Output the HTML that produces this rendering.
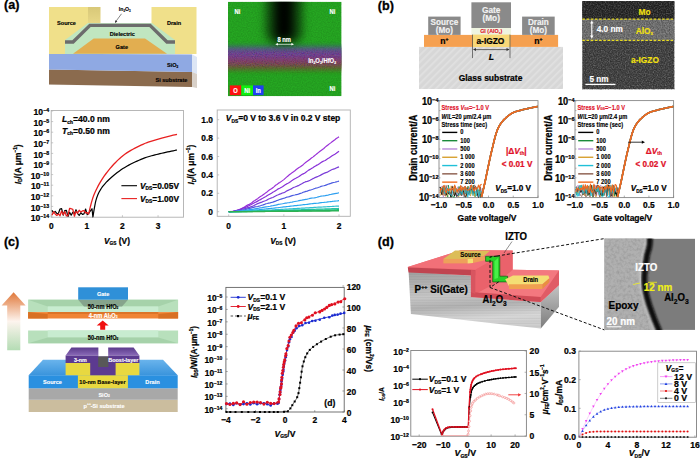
<!DOCTYPE html><html><head><meta charset="utf-8"><style>html,body{margin:0;padding:0;background:#fff;width:700px;height:458px;overflow:hidden}svg{display:block}text{font-family:"Liberation Sans",sans-serif}</style></head><body><svg width="700" height="458" viewBox="0 0 700 458">
<text x="4.00" y="9.40" font-size="12.6" font-weight="bold" text-anchor="start" fill="#000" stroke="#000" stroke-width="0.3"><tspan>(a)</tspan></text>
<polygon points="49.00,54.00 192.00,54.00 196.00,57.00 196.00,87.00 192.00,87.00 49.00,85.00" fill="#f4f4f4" />
<polygon points="49.00,69.50 192.00,72.00 192.00,87.00 49.00,84.60" fill="#8b6b4e" />
<polygon points="49.00,53.70 192.00,54.50 192.00,72.00 49.00,69.50" fill="#8fa9e3" />
<polygon points="192.00,54.50 197.00,57.00 197.00,74.00 192.00,72.00" fill="#dde6f5" />
<polygon points="192.00,72.00 197.00,74.00 197.00,88.00 192.00,87.00" fill="#d8d0c8" />
<rect x="49" y="7" width="39" height="47" fill="#f0e08a"/>
<defs><linearGradient id="srcside" x1="0" x2="0" y1="0" y2="1"><stop offset="0" stop-color="#d8c878"/><stop offset="1" stop-color="#e8d888"/></linearGradient></defs>
<rect x="88" y="7" width="12.5" height="17" fill="url(#srcside)"/>
<rect x="151.5" y="7" width="45" height="47" fill="#f0e08a"/>
<polygon points="65.00,40.00 88.00,23.00 152.00,23.00 175.00,40.00 175.00,54.00 65.00,54.00" fill="#c0e6c0" />
<polygon points="93.70,38.40 145.00,38.40 167.00,53.70 73.00,53.70" fill="#e2ae50" />
<path d="M65,42 L73,42 L90,25.4 L150,25.4 L167,42 L175,42" stroke="#6c6c6c" stroke-width="3.4" fill="none" stroke-linejoin="miter"/>
<text x="0.00" y="0.00" transform="translate(57.00,25.00) scale(1.0,1.1)" font-size="5.6" font-weight="bold" text-anchor="start" fill="#000" stroke="#000" stroke-width="0.15"><tspan>Source</tspan></text>
<text x="0.00" y="0.00" transform="translate(166.90,25.00) scale(1.0,1.1)" font-size="5.6" font-weight="bold" text-anchor="start" fill="#000" stroke="#000" stroke-width="0.15"><tspan>Drain</tspan></text>
<text x="0.00" y="0.00" transform="translate(122.30,36.00) scale(1.0,1.1)" font-size="5.6" font-weight="bold" text-anchor="middle" fill="#000" stroke="#000" stroke-width="0.15"><tspan>Dielectric</tspan></text>
<text x="0.00" y="0.00" transform="translate(121.80,49.00) scale(1.0,1.1)" font-size="5.6" font-weight="bold" text-anchor="middle" fill="#000" stroke="#000" stroke-width="0.15"><tspan>Gate</tspan></text>
<text x="0.00" y="0.00" transform="translate(166.90,67.00) scale(1.0,1.1)" font-size="5.6" font-weight="bold" text-anchor="start" fill="#000" stroke="#000" stroke-width="0.15"><tspan>SiO</tspan><tspan font-size="3.19" dy="0.73">2</tspan></text>
<text x="0.00" y="0.00" transform="translate(155.40,81.50) scale(1.0,1.1)" font-size="5.6" font-weight="bold" text-anchor="start" fill="#000" stroke="#000" stroke-width="0.15"><tspan>Si substrate</tspan></text>
<text x="0.00" y="0.00" transform="translate(118.80,11.20) scale(1.0,1.1)" font-size="5.2" font-weight="bold" text-anchor="start" fill="#000" stroke="#000" stroke-width="0.12"><tspan>In</tspan><tspan font-size="2.96" dy="0.68">2</tspan><tspan dy="-0.68">O</tspan><tspan font-size="2.96" dy="0.68">3</tspan></text>
<line x1="121.50" y1="13.80" x2="115.80" y2="21.50" stroke="#333" stroke-width="0.6" />
<polygon points="115.00,23.00 115.20,20.30 117.40,21.60" fill="#333" />
<defs><clipPath id="edsClip"><rect x="228" y="1.7" width="113.6" height="94.5"/></clipPath><filter id="blurA" x="-50%" y="-50%" width="200%" height="200%"><feGaussianBlur stdDeviation="4.2"/></filter><filter id="blurB" x="-50%" y="-50%" width="200%" height="200%"><feGaussianBlur stdDeviation="2.5"/></filter><filter id="speck" x="0" y="0" width="100%" height="100%"><feTurbulence type="fractalNoise" baseFrequency="0.8" numOctaves="1" seed="11"/><feColorMatrix type="matrix" values="0 0 0 0 0  0 0 0 0 0  0 0 0 0 0  0 0 0 -1.6 1.1"/></filter></defs>
<g clip-path="url(#edsClip)">
<rect x="228" y="1.7" width="113.6" height="94.5" fill="#26a822"/>
<g filter="url(#blurB)">
<rect x="220" y="46" width="130" height="6" fill="#4a4a98" opacity="0.75"/>
<rect x="220" y="50" width="130" height="9" fill="#66308e"/>
<rect x="220" y="58" width="130" height="7" fill="#7c2c5c"/>
<rect x="220" y="64" width="130" height="6" fill="#703a24" opacity="0.75"/>
</g>
<rect x="265" y="-20" width="38" height="64" rx="12" fill="#000" opacity="0.5" filter="url(#blurA)"/>
<rect x="274.5" y="-20" width="19" height="60" rx="6" fill="#000" opacity="0.95" filter="url(#blurA)"/>
<defs><filter id="cnoise" x="0" y="0" width="100%" height="100%"><feTurbulence type="fractalNoise" baseFrequency="0.9" numOctaves="1" seed="17"/><feColorMatrix type="matrix" values="2.2 0 0 0 -0.6  0 2.2 0 0 -0.6  0 0 2.2 0 -0.6  0 0 0 0 0.35"/></filter></defs>
<rect x="228" y="1.7" width="113.6" height="94.5" fill="#000" opacity="0.15" filter="url(#speck)"/>
<defs><linearGradient id="nfade" x1="0" x2="0" y1="0" y2="1"><stop offset="0" stop-color="#fff" stop-opacity="0"/><stop offset="0.3" stop-color="#fff" stop-opacity="1"/><stop offset="0.7" stop-color="#fff" stop-opacity="1"/><stop offset="1" stop-color="#fff" stop-opacity="0"/></linearGradient><mask id="nmask"><rect x="228" y="44" width="113.6" height="30" fill="url(#nfade)"/></mask></defs>
<rect x="228" y="44" width="113.6" height="30" filter="url(#cnoise)" opacity="0.4" mask="url(#nmask)"/>
</g>
<text x="0.00" y="0.00" transform="translate(234.50,14.00) scale(1.0,1.1)" font-size="5.8" font-weight="bold" text-anchor="start" fill="#fff" stroke="#fff" stroke-width="0.15"><tspan>Ni</tspan></text>
<text x="0.00" y="0.00" transform="translate(329.50,14.00) scale(1.0,1.1)" font-size="5.8" font-weight="bold" text-anchor="start" fill="#fff" stroke="#fff" stroke-width="0.15"><tspan>Ni</tspan></text>
<text x="0.00" y="0.00" transform="translate(329.50,91.00) scale(1.0,1.1)" font-size="5.8" font-weight="bold" text-anchor="start" fill="#fff" stroke="#fff" stroke-width="0.15"><tspan>Ni</tspan></text>
<text x="0.00" y="0.00" transform="translate(284.20,42.20) scale(1.0,1.1)" font-size="5.8" font-weight="bold" text-anchor="middle" fill="#fff" stroke="#fff" stroke-width="0.15"><tspan>8 nm</tspan></text>
<line x1="277.00" y1="44.30" x2="292.50" y2="44.30" stroke="#fff" stroke-width="0.7" />
<polygon points="275.30,44.30 277.90,43.00 277.90,45.60" fill="#fff" />
<polygon points="294.00,44.30 291.40,45.60 291.40,43.00" fill="#fff" />
<text x="0.00" y="0.00" transform="translate(308.20,62.80) scale(1.0,1.1)" font-size="5.9" font-weight="bold" text-anchor="start" fill="#fff" stroke="#fff" stroke-width="0.12"><tspan>In</tspan><tspan font-size="3.36" dy="0.77">2</tspan><tspan dy="-0.77">O</tspan><tspan font-size="3.36" dy="0.77">3</tspan><tspan dy="-0.77">/HfO</tspan><tspan font-size="3.36" dy="0.77">2</tspan></text>
<rect x="229.8" y="85.4" width="11.5" height="9.8" fill="#ff1010"/>
<rect x="241.3" y="85.4" width="11.7" height="9.8" fill="#10f010"/>
<rect x="253" y="85.4" width="10.6" height="9.8" fill="#2040f0"/>
<text x="0.00" y="0.00" transform="translate(235.50,92.60) scale(1.0,1.1)" font-size="5.8" font-weight="bold" text-anchor="middle" fill="#fff" stroke="#fff" stroke-width="0.15"><tspan>O</tspan></text>
<text x="0.00" y="0.00" transform="translate(247.10,92.60) scale(1.0,1.1)" font-size="5.8" font-weight="bold" text-anchor="middle" fill="#fff" stroke="#fff" stroke-width="0.15"><tspan>Ni</tspan></text>
<text x="0.00" y="0.00" transform="translate(258.30,92.60) scale(1.0,1.1)" font-size="5.8" font-weight="bold" text-anchor="middle" fill="#fff" stroke="#fff" stroke-width="0.15"><tspan>In</tspan></text>
<rect x="51.2" y="110.5" width="132.3" height="106.69999999999999" fill="none" stroke="#b0b0b0" stroke-width="0.9"/>
<text x="0.00" y="0.00" transform="translate(49.00,115.20) scale(1.0,1.1)" font-size="8.6" font-weight="bold" text-anchor="end" fill="#000" stroke="#000" stroke-width="0.22"><tspan>10</tspan><tspan font-size="5.16" dy="-2.75">−4</tspan></text>
<line x1="51.20" y1="111.00" x2="53.20" y2="111.00" stroke="#b0b0b0" stroke-width="0.7" />
<text x="0.00" y="0.00" transform="translate(49.00,125.80) scale(1.0,1.1)" font-size="8.6" font-weight="bold" text-anchor="end" fill="#000" stroke="#000" stroke-width="0.22"><tspan>10</tspan><tspan font-size="5.16" dy="-2.75">−5</tspan></text>
<line x1="51.20" y1="121.60" x2="53.20" y2="121.60" stroke="#b0b0b0" stroke-width="0.7" />
<text x="0.00" y="0.00" transform="translate(49.00,136.40) scale(1.0,1.1)" font-size="8.6" font-weight="bold" text-anchor="end" fill="#000" stroke="#000" stroke-width="0.22"><tspan>10</tspan><tspan font-size="5.16" dy="-2.75">−6</tspan></text>
<line x1="51.20" y1="132.20" x2="53.20" y2="132.20" stroke="#b0b0b0" stroke-width="0.7" />
<text x="0.00" y="0.00" transform="translate(49.00,147.00) scale(1.0,1.1)" font-size="8.6" font-weight="bold" text-anchor="end" fill="#000" stroke="#000" stroke-width="0.22"><tspan>10</tspan><tspan font-size="5.16" dy="-2.75">−7</tspan></text>
<line x1="51.20" y1="142.80" x2="53.20" y2="142.80" stroke="#b0b0b0" stroke-width="0.7" />
<text x="0.00" y="0.00" transform="translate(49.00,157.60) scale(1.0,1.1)" font-size="8.6" font-weight="bold" text-anchor="end" fill="#000" stroke="#000" stroke-width="0.22"><tspan>10</tspan><tspan font-size="5.16" dy="-2.75">−8</tspan></text>
<line x1="51.20" y1="153.40" x2="53.20" y2="153.40" stroke="#b0b0b0" stroke-width="0.7" />
<text x="0.00" y="0.00" transform="translate(49.00,168.20) scale(1.0,1.1)" font-size="8.6" font-weight="bold" text-anchor="end" fill="#000" stroke="#000" stroke-width="0.22"><tspan>10</tspan><tspan font-size="5.16" dy="-2.75">−9</tspan></text>
<line x1="51.20" y1="164.00" x2="53.20" y2="164.00" stroke="#b0b0b0" stroke-width="0.7" />
<text x="0.00" y="0.00" transform="translate(49.00,178.80) scale(1.0,1.1)" font-size="8.6" font-weight="bold" text-anchor="end" fill="#000" stroke="#000" stroke-width="0.22"><tspan>10</tspan><tspan font-size="5.16" dy="-2.75">−10</tspan></text>
<line x1="51.20" y1="174.60" x2="53.20" y2="174.60" stroke="#b0b0b0" stroke-width="0.7" />
<text x="0.00" y="0.00" transform="translate(49.00,189.40) scale(1.0,1.1)" font-size="8.6" font-weight="bold" text-anchor="end" fill="#000" stroke="#000" stroke-width="0.22"><tspan>10</tspan><tspan font-size="5.16" dy="-2.75">−11</tspan></text>
<line x1="51.20" y1="185.20" x2="53.20" y2="185.20" stroke="#b0b0b0" stroke-width="0.7" />
<text x="0.00" y="0.00" transform="translate(49.00,200.00) scale(1.0,1.1)" font-size="8.6" font-weight="bold" text-anchor="end" fill="#000" stroke="#000" stroke-width="0.22"><tspan>10</tspan><tspan font-size="5.16" dy="-2.75">−12</tspan></text>
<line x1="51.20" y1="195.80" x2="53.20" y2="195.80" stroke="#b0b0b0" stroke-width="0.7" />
<text x="0.00" y="0.00" transform="translate(49.00,210.60) scale(1.0,1.1)" font-size="8.6" font-weight="bold" text-anchor="end" fill="#000" stroke="#000" stroke-width="0.22"><tspan>10</tspan><tspan font-size="5.16" dy="-2.75">−13</tspan></text>
<line x1="51.20" y1="206.40" x2="53.20" y2="206.40" stroke="#b0b0b0" stroke-width="0.7" />
<text x="0.00" y="0.00" transform="translate(49.00,221.20) scale(1.0,1.1)" font-size="8.6" font-weight="bold" text-anchor="end" fill="#000" stroke="#000" stroke-width="0.22"><tspan>10</tspan><tspan font-size="5.16" dy="-2.75">−14</tspan></text>
<line x1="51.20" y1="217.00" x2="53.20" y2="217.00" stroke="#b0b0b0" stroke-width="0.7" />
<text x="0.00" y="0.00" transform="translate(51.25,228.50) scale(1.0,1.1)" font-size="8.4" font-weight="bold" text-anchor="middle" fill="#000" stroke="#000" stroke-width="0.22"><tspan>0</tspan></text>
<line x1="51.25" y1="217.20" x2="51.25" y2="215.20" stroke="#b0b0b0" stroke-width="0.7" />
<text x="0.00" y="0.00" transform="translate(86.85,228.50) scale(1.0,1.1)" font-size="8.4" font-weight="bold" text-anchor="middle" fill="#000" stroke="#000" stroke-width="0.22"><tspan>1</tspan></text>
<line x1="86.85" y1="217.20" x2="86.85" y2="215.20" stroke="#b0b0b0" stroke-width="0.7" />
<text x="0.00" y="0.00" transform="translate(122.45,228.50) scale(1.0,1.1)" font-size="8.4" font-weight="bold" text-anchor="middle" fill="#000" stroke="#000" stroke-width="0.22"><tspan>2</tspan></text>
<line x1="122.45" y1="217.20" x2="122.45" y2="215.20" stroke="#b0b0b0" stroke-width="0.7" />
<text x="0.00" y="0.00" transform="translate(158.05,228.50) scale(1.0,1.1)" font-size="8.4" font-weight="bold" text-anchor="middle" fill="#000" stroke="#000" stroke-width="0.22"><tspan>3</tspan></text>
<line x1="158.05" y1="217.20" x2="158.05" y2="215.20" stroke="#b0b0b0" stroke-width="0.7" />
<text x="0.00" y="0.00" transform="translate(117.00,243.50) scale(1.0,1.1)" font-size="8.4" font-weight="bold" text-anchor="middle" fill="#000" stroke="#000" stroke-width="0.22"><tspan font-style="italic">V</tspan><tspan font-size="4.79" dy="1.09">GS</tspan><tspan dy="-1.09"> (V)</tspan></text>
<text x="0.00" y="0.00" transform="translate(20.50,164.30) rotate(-90) scale(1.0,1.1)" font-size="8.4" font-weight="bold" text-anchor="middle" fill="#000" stroke="#000" stroke-width="0.22"><tspan font-style="italic">I</tspan><tspan font-size="4.79" dy="1.09">D</tspan><tspan dy="-1.09">/(A μm</tspan><tspan font-size="4.79" dy="-3.53">−1</tspan><tspan dy="3.53">)</tspan></text>
<text x="0.00" y="0.00" transform="translate(62.00,122.40) scale(1.0,1.1)" font-size="8.6" font-weight="bold" text-anchor="start" fill="#000" stroke="#000" stroke-width="0.22"><tspan font-style="italic">L</tspan><tspan font-size="4.90" dy="1.12">ch</tspan><tspan dy="-1.12">=40.0 nm</tspan></text>
<text x="0.00" y="0.00" transform="translate(62.00,133.50) scale(1.0,1.1)" font-size="8.6" font-weight="bold" text-anchor="start" fill="#000" stroke="#000" stroke-width="0.22"><tspan font-style="italic">T</tspan><tspan font-size="4.90" dy="1.12">ch</tspan><tspan dy="-1.12">=0.50 nm</tspan></text>
<line x1="121.40" y1="185.70" x2="137.00" y2="185.70" stroke="#000" stroke-width="1.1" />
<line x1="121.40" y1="198.60" x2="137.00" y2="198.60" stroke="#e82020" stroke-width="1.1" />
<text x="0.00" y="0.00" transform="translate(140.00,188.60) scale(1.0,1.1)" font-size="8.4" font-weight="bold" text-anchor="start" fill="#000" stroke="#000" stroke-width="0.22"><tspan font-style="italic">V</tspan><tspan font-size="4.79" dy="1.09">DS</tspan><tspan dy="-1.09">=0.05V</tspan></text>
<text x="0.00" y="0.00" transform="translate(140.00,201.50) scale(1.0,1.1)" font-size="8.4" font-weight="bold" text-anchor="start" fill="#000" stroke="#000" stroke-width="0.22"><tspan font-style="italic">V</tspan><tspan font-size="4.79" dy="1.09">DS</tspan><tspan dy="-1.09">=1.00V</tspan></text>
<path d="M52.00,210.40 L53.60,212.85 L55.20,211.46 L56.80,213.33 L58.40,213.51 L60.00,209.02 L61.60,208.61 L63.20,215.20 L64.80,210.57 L66.40,210.37 L68.00,216.47 L69.60,212.26 L71.20,215.19 L72.80,212.31 L74.40,213.61 L76.00,209.70 L77.60,213.58 L79.20,215.44 L80.80,212.69 L82.40,214.43 L84.00,213.87 L85.60,209.01 L87.20,214.57 L88.80,213.23 L90.40,210.91 L92.00,208.75 L92.90,217.00 L93.12,215.78 L93.38,214.19 L93.68,212.28 L94.02,210.16 L94.41,207.88 L94.83,205.54 L95.30,203.20 L95.82,200.94 L96.39,198.85 L97.00,197.00 L97.65,195.35 L98.31,193.81 L99.00,192.34 L99.74,190.94 L100.53,189.59 L101.39,188.27 L102.32,186.96 L103.34,185.64 L104.47,184.29 L105.70,182.90 L107.06,181.46 L108.55,179.98 L110.15,178.49 L111.83,176.99 L113.59,175.49 L115.41,174.02 L117.27,172.58 L119.14,171.19 L121.03,169.86 L122.90,168.60 L124.80,167.40 L126.77,166.24 L128.79,165.12 L130.84,164.05 L132.91,163.01 L134.97,162.03 L137.02,161.09 L139.04,160.20 L141.00,159.37 L142.90,158.60 L144.73,157.90 L146.51,157.27 L148.25,156.72 L149.95,156.22 L151.64,155.76 L153.31,155.33 L154.97,154.92 L156.63,154.52 L158.31,154.12 L160.00,153.70 L161.78,153.26 L163.68,152.82 L165.64,152.39 L167.62,151.96 L169.57,151.54 L171.43,151.16 L173.15,150.80 L174.69,150.48 L175.99,150.21 L177.00,150.00" stroke="#000" stroke-width="1.2" fill="none" stroke-linejoin="round" />
<path d="M52.00,215.29 L53.60,211.75 L55.20,213.97 L56.80,215.41 L58.40,213.93 L60.00,215.79 L61.60,211.05 L63.20,214.71 L64.80,211.50 L66.40,215.92 L68.00,215.41 L69.60,208.38 L71.20,208.72 L72.80,209.45 L74.40,216.19 L76.00,211.43 L77.60,213.14 L79.20,210.21 L80.80,212.07 L82.40,210.97 L84.00,210.66 L85.60,212.77 L87.20,212.76 L88.60,214.00 L88.91,212.81 L89.28,211.28 L89.71,209.47 L90.20,207.44 L90.74,205.25 L91.34,202.96 L91.99,200.63 L92.70,198.32 L93.47,196.09 L94.30,194.00 L95.18,191.99 L96.12,189.97 L97.12,187.95 L98.17,185.92 L99.28,183.89 L100.45,181.88 L101.67,179.88 L102.96,177.89 L104.30,175.93 L105.70,174.00 L107.17,172.07 L108.72,170.12 L110.35,168.17 L112.03,166.23 L113.76,164.31 L115.54,162.44 L117.35,160.63 L119.19,158.89 L121.04,157.24 L122.90,155.70 L124.80,154.25 L126.77,152.89 L128.79,151.59 L130.84,150.37 L132.91,149.21 L134.97,148.12 L137.02,147.08 L139.04,146.10 L141.00,145.18 L142.90,144.30 L144.73,143.49 L146.51,142.77 L148.25,142.13 L149.95,141.54 L151.64,141.01 L153.31,140.51 L154.97,140.03 L156.63,139.56 L158.31,139.09 L160.00,138.60 L161.78,138.09 L163.68,137.58 L165.64,137.07 L167.62,136.57 L169.57,136.09 L171.43,135.64 L173.15,135.23 L174.69,134.86 L175.99,134.55 L177.00,134.30" stroke="#e82020" stroke-width="1.3" fill="none" stroke-linejoin="round" />
<rect x="217.2" y="110" width="133.10000000000002" height="106.30000000000001" fill="none" stroke="#b0b0b0" stroke-width="0.9"/>
<text x="0.00" y="0.00" transform="translate(213.00,214.70) scale(1.0,1.1)" font-size="8.4" font-weight="bold" text-anchor="end" fill="#000" stroke="#000" stroke-width="0.22"><tspan>0</tspan></text>
<line x1="217.20" y1="211.70" x2="219.20" y2="211.70" stroke="#b0b0b0" stroke-width="0.7" />
<text x="0.00" y="0.00" transform="translate(213.00,196.30) scale(1.0,1.1)" font-size="8.4" font-weight="bold" text-anchor="end" fill="#000" stroke="#000" stroke-width="0.22"><tspan>0.2</tspan></text>
<line x1="217.20" y1="193.30" x2="219.20" y2="193.30" stroke="#b0b0b0" stroke-width="0.7" />
<text x="0.00" y="0.00" transform="translate(213.00,177.90) scale(1.0,1.1)" font-size="8.4" font-weight="bold" text-anchor="end" fill="#000" stroke="#000" stroke-width="0.22"><tspan>0.4</tspan></text>
<line x1="217.20" y1="174.90" x2="219.20" y2="174.90" stroke="#b0b0b0" stroke-width="0.7" />
<text x="0.00" y="0.00" transform="translate(213.00,159.50) scale(1.0,1.1)" font-size="8.4" font-weight="bold" text-anchor="end" fill="#000" stroke="#000" stroke-width="0.22"><tspan>0.6</tspan></text>
<line x1="217.20" y1="156.50" x2="219.20" y2="156.50" stroke="#b0b0b0" stroke-width="0.7" />
<text x="0.00" y="0.00" transform="translate(213.00,141.10) scale(1.0,1.1)" font-size="8.4" font-weight="bold" text-anchor="end" fill="#000" stroke="#000" stroke-width="0.22"><tspan>0.8</tspan></text>
<line x1="217.20" y1="138.10" x2="219.20" y2="138.10" stroke="#b0b0b0" stroke-width="0.7" />
<text x="0.00" y="0.00" transform="translate(213.00,122.70) scale(1.0,1.1)" font-size="8.4" font-weight="bold" text-anchor="end" fill="#000" stroke="#000" stroke-width="0.22"><tspan>1.0</tspan></text>
<line x1="217.20" y1="119.70" x2="219.20" y2="119.70" stroke="#b0b0b0" stroke-width="0.7" />
<text x="0.00" y="0.00" transform="translate(228.70,228.50) scale(1.0,1.1)" font-size="8.4" font-weight="bold" text-anchor="middle" fill="#000" stroke="#000" stroke-width="0.22"><tspan>0</tspan></text>
<line x1="228.70" y1="216.30" x2="228.70" y2="214.30" stroke="#b0b0b0" stroke-width="0.7" />
<text x="0.00" y="0.00" transform="translate(283.85,228.50) scale(1.0,1.1)" font-size="8.4" font-weight="bold" text-anchor="middle" fill="#000" stroke="#000" stroke-width="0.22"><tspan>1</tspan></text>
<line x1="283.85" y1="216.30" x2="283.85" y2="214.30" stroke="#b0b0b0" stroke-width="0.7" />
<text x="0.00" y="0.00" transform="translate(339.00,228.50) scale(1.0,1.1)" font-size="8.4" font-weight="bold" text-anchor="middle" fill="#000" stroke="#000" stroke-width="0.22"><tspan>2</tspan></text>
<line x1="339.00" y1="216.30" x2="339.00" y2="214.30" stroke="#b0b0b0" stroke-width="0.7" />
<text x="0.00" y="0.00" transform="translate(283.00,243.50) scale(1.0,1.1)" font-size="8.4" font-weight="bold" text-anchor="middle" fill="#000" stroke="#000" stroke-width="0.22"><tspan font-style="italic">V</tspan><tspan font-size="4.79" dy="1.09">DS</tspan><tspan dy="-1.09"> (V)</tspan></text>
<text x="0.00" y="0.00" transform="translate(194.30,164.70) rotate(-90) scale(1.0,1.1)" font-size="8.4" font-weight="bold" text-anchor="middle" fill="#000" stroke="#000" stroke-width="0.22"><tspan font-style="italic">I</tspan><tspan font-size="4.79" dy="1.09">D</tspan><tspan dy="-1.09">/(A μm</tspan><tspan font-size="4.79" dy="-3.53">−1</tspan><tspan dy="3.53">)</tspan></text>
<text x="0.00" y="0.00" transform="translate(225.80,121.40) scale(1.0,1.1)" font-size="8.5" font-weight="bold" text-anchor="start" fill="#000" stroke="#000" stroke-width="0.22"><tspan font-style="italic">V</tspan><tspan font-size="4.84" dy="1.10">DS</tspan><tspan dy="-1.10">=0 V to 3.6 V in 0.2 V step</tspan></text>
<path d="M228.70,211.70 L230.08,211.62 L231.46,211.47 L232.84,211.24 L234.22,210.92 L235.59,210.53 L236.97,210.22 L238.35,209.77 L239.73,209.35 L241.11,208.72 L242.49,208.16 L243.87,207.38 L245.24,206.42 L246.62,205.61 L248.00,204.91 L249.38,204.34 L250.76,203.40 L252.14,202.45 L253.52,201.33 L254.90,200.51 L256.28,199.54 L257.65,198.63 L259.03,197.43 L260.41,196.56 L261.79,195.83 L263.17,194.85 L264.55,193.85 L265.93,192.66 L267.31,191.67 L268.68,190.49 L270.06,189.59 L271.44,188.81 L272.82,187.70 L274.20,186.62 L275.58,185.31 L276.96,184.49 L278.33,183.35 L279.71,182.59 L281.09,181.63 L282.47,180.63 L283.85,179.62 L285.23,178.34 L286.61,177.14 L287.99,175.95 L289.36,174.80 L290.74,173.78 L292.12,172.65 L293.50,171.78 L294.88,170.70 L296.26,169.51 L297.64,168.53 L299.02,167.52 L300.39,166.76 L301.77,165.70 L303.15,164.65 L304.53,163.42 L305.91,162.22 L307.29,161.24 L308.67,160.22 L310.05,159.16 L311.42,158.08 L312.80,157.12 L314.18,156.03 L315.56,154.90 L316.94,153.75 L318.32,152.59 L319.70,151.48 L321.08,150.49 L322.45,149.51 L323.83,148.52 L325.21,147.13 L326.59,146.02 L327.97,144.96 L329.35,143.89 L330.73,142.88 L332.11,141.82 L333.48,140.77 L334.86,139.70 L336.24,138.57 L337.62,137.70 L339.00,136.72" stroke="#9a30d8" stroke-width="1.2" fill="none" stroke-linejoin="round" />
<path d="M228.70,211.70 L230.08,211.63 L231.46,211.52 L232.84,211.33 L234.22,211.08 L235.59,210.77 L236.97,210.35 L238.35,210.01 L239.73,209.64 L241.11,209.04 L242.49,208.30 L243.87,207.72 L245.24,207.44 L246.62,206.89 L248.00,206.18 L249.38,205.40 L250.76,204.75 L252.14,204.02 L253.52,203.22 L254.90,202.51 L256.28,201.85 L257.65,201.10 L259.03,200.34 L260.41,199.63 L261.79,198.76 L263.17,198.03 L264.55,197.23 L265.93,196.52 L267.31,195.60 L268.68,194.81 L270.06,193.98 L271.44,193.14 L272.82,192.20 L274.20,191.52 L275.58,190.66 L276.96,189.79 L278.33,188.84 L279.71,188.24 L281.09,187.44 L282.47,186.77 L283.85,185.71 L285.23,184.83 L286.61,183.91 L287.99,183.30 L289.36,182.49 L290.74,181.50 L292.12,180.39 L293.50,179.56 L294.88,178.70 L296.26,178.07 L297.64,177.32 L299.02,176.46 L300.39,175.43 L301.77,174.56 L303.15,173.86 L304.53,173.18 L305.91,172.17 L307.29,171.14 L308.67,170.11 L310.05,169.40 L311.42,168.59 L312.80,167.75 L314.18,166.76 L315.56,165.96 L316.94,165.12 L318.32,164.43 L319.70,163.48 L321.08,162.48 L322.45,161.63 L323.83,161.01 L325.21,160.48 L326.59,159.45 L327.97,158.61 L329.35,157.73 L330.73,156.80 L332.11,155.87 L333.48,154.98 L334.86,154.27 L336.24,153.33 L337.62,152.29 L339.00,151.23" stroke="#8830d8" stroke-width="1.2" fill="none" stroke-linejoin="round" />
<path d="M228.70,211.70 L230.08,211.65 L231.46,211.56 L232.84,211.42 L234.22,211.23 L235.59,211.00 L236.97,210.68 L238.35,210.28 L239.73,209.80 L241.11,209.51 L242.49,209.14 L243.87,208.97 L245.24,208.35 L246.62,208.09 L248.00,207.58 L249.38,207.38 L250.76,206.87 L252.14,206.42 L253.52,205.77 L254.90,204.93 L256.28,204.33 L257.65,203.64 L259.03,203.16 L260.41,202.56 L261.79,202.09 L263.17,201.54 L264.55,201.04 L265.93,200.47 L267.31,199.85 L268.68,199.01 L270.06,198.48 L271.44,197.92 L272.82,197.48 L274.20,196.69 L275.58,195.97 L276.96,195.27 L278.33,194.80 L279.71,194.16 L281.09,193.62 L282.47,193.02 L283.85,192.60 L285.23,191.98 L286.61,191.04 L287.99,190.35 L289.36,189.73 L290.74,189.10 L292.12,188.35 L293.50,187.51 L294.88,187.03 L296.26,186.44 L297.64,185.87 L299.02,185.32 L300.39,184.53 L301.77,183.75 L303.15,182.90 L304.53,182.30 L305.91,181.66 L307.29,181.30 L308.67,180.90 L310.05,180.27 L311.42,179.47 L312.80,178.64 L314.18,178.08 L315.56,177.39 L316.94,176.85 L318.32,176.30 L319.70,175.66 L321.08,174.87 L322.45,174.14 L323.83,173.41 L325.21,172.89 L326.59,172.38 L327.97,171.82 L329.35,171.02 L330.73,170.19 L332.11,169.55 L333.48,169.08 L334.86,168.64 L336.24,168.00 L337.62,167.42 L339.00,166.92" stroke="#7a3cd8" stroke-width="1.2" fill="none" stroke-linejoin="round" />
<path d="M228.70,211.70 L230.08,211.67 L231.46,211.61 L232.84,211.51 L234.22,211.38 L235.59,211.22 L236.97,211.07 L238.35,210.84 L239.73,210.58 L241.11,210.29 L242.49,210.09 L243.87,209.82 L245.24,209.58 L246.62,209.20 L248.00,208.82 L249.38,208.44 L250.76,208.16 L252.14,207.76 L253.52,207.36 L254.90,206.92 L256.28,206.76 L257.65,206.52 L259.03,206.12 L260.41,205.73 L261.79,205.29 L263.17,204.86 L264.55,204.33 L265.93,203.74 L267.31,203.48 L268.68,203.12 L270.06,202.92 L271.44,202.49 L272.82,202.07 L274.20,201.60 L275.58,201.12 L276.96,200.53 L278.33,200.06 L279.71,199.48 L281.09,199.06 L282.47,198.68 L283.85,198.26 L285.23,197.81 L286.61,197.19 L287.99,196.99 L289.36,196.58 L290.74,196.13 L292.12,195.68 L293.50,195.23 L294.88,195.02 L296.26,194.54 L297.64,194.30 L299.02,193.89 L300.39,193.43 L301.77,192.98 L303.15,192.28 L304.53,191.90 L305.91,191.38 L307.29,191.13 L308.67,190.51 L310.05,190.13 L311.42,189.76 L312.80,189.30 L314.18,188.75 L315.56,188.20 L316.94,187.98 L318.32,187.52 L319.70,186.97 L321.08,186.37 L322.45,186.03 L323.83,185.75 L325.21,185.35 L326.59,184.84 L327.97,184.30 L329.35,183.85 L330.73,183.43 L332.11,182.90 L333.48,182.50 L334.86,182.22 L336.24,181.87 L337.62,181.50 L339.00,181.09" stroke="#4a5ae0" stroke-width="1.2" fill="none" stroke-linejoin="round" />
<path d="M228.70,211.70 L230.08,211.68 L231.46,211.64 L232.84,211.58 L234.22,211.50 L235.59,211.41 L236.97,211.24 L238.35,211.14 L239.73,211.04 L241.11,210.98 L242.49,210.78 L243.87,210.56 L245.24,210.37 L246.62,210.24 L248.00,209.99 L249.38,209.69 L250.76,209.45 L252.14,209.36 L253.52,209.21 L254.90,208.94 L256.28,208.67 L257.65,208.38 L259.03,208.11 L260.41,207.78 L261.79,207.61 L263.17,207.37 L264.55,207.13 L265.93,206.89 L267.31,206.75 L268.68,206.51 L270.06,206.25 L271.44,205.91 L272.82,205.74 L274.20,205.46 L275.58,205.18 L276.96,204.81 L278.33,204.45 L279.71,204.23 L281.09,203.99 L282.47,203.75 L283.85,203.47 L285.23,203.19 L286.61,203.03 L287.99,202.73 L289.36,202.58 L290.74,202.26 L292.12,202.07 L293.50,201.72 L294.88,201.51 L296.26,201.28 L297.64,201.03 L299.02,200.70 L300.39,200.41 L301.77,200.20 L303.15,199.92 L304.53,199.65 L305.91,199.40 L307.29,199.14 L308.67,198.79 L310.05,198.39 L311.42,198.17 L312.80,197.98 L314.18,197.83 L315.56,197.58 L316.94,197.24 L318.32,196.84 L319.70,196.47 L321.08,196.19 L322.45,196.01 L323.83,195.84 L325.21,195.70 L326.59,195.35 L327.97,195.08 L329.35,194.71 L330.73,194.47 L332.11,194.18 L333.48,193.87 L334.86,193.55 L336.24,193.30 L337.62,193.06 L339.00,192.73" stroke="#30a0f0" stroke-width="1.2" fill="none" stroke-linejoin="round" />
<path d="M228.70,211.70 L230.08,211.69 L231.46,211.67 L232.84,211.63 L234.22,211.59 L235.59,211.53 L236.97,211.45 L238.35,211.38 L239.73,211.32 L241.11,211.19 L242.49,211.07 L243.87,210.94 L245.24,210.88 L246.62,210.76 L248.00,210.66 L249.38,210.58 L250.76,210.48 L252.14,210.35 L253.52,210.13 L254.90,209.99 L256.28,209.86 L257.65,209.73 L259.03,209.65 L260.41,209.53 L261.79,209.39 L263.17,209.25 L264.55,209.05 L265.93,208.97 L267.31,208.81 L268.68,208.65 L270.06,208.49 L271.44,208.33 L272.82,208.23 L274.20,208.04 L275.58,207.89 L276.96,207.76 L278.33,207.65 L279.71,207.47 L281.09,207.23 L282.47,207.06 L283.85,206.89 L285.23,206.79 L286.61,206.65 L287.99,206.52 L289.36,206.31 L290.74,206.15 L292.12,206.00 L293.50,205.85 L294.88,205.71 L296.26,205.56 L297.64,205.40 L299.02,205.25 L300.39,205.04 L301.77,204.90 L303.15,204.72 L304.53,204.61 L305.91,204.48 L307.29,204.31 L308.67,204.14 L310.05,203.96 L311.42,203.76 L312.80,203.56 L314.18,203.44 L315.56,203.34 L316.94,203.23 L318.32,203.08 L319.70,202.88 L321.08,202.70 L322.45,202.50 L323.83,202.40 L325.21,202.22 L326.59,202.07 L327.97,201.85 L329.35,201.77 L330.73,201.59 L332.11,201.44 L333.48,201.25 L334.86,201.11 L336.24,201.00 L337.62,200.83 L339.00,200.62" stroke="#28a8f0" stroke-width="1.2" fill="none" stroke-linejoin="round" />
<path d="M228.70,211.70 L230.08,211.69 L231.46,211.68 L232.84,211.66 L234.22,211.64 L235.59,211.61 L236.97,211.60 L238.35,211.54 L239.73,211.48 L241.11,211.40 L242.49,211.35 L243.87,211.32 L245.24,211.30 L246.62,211.24 L248.00,211.15 L249.38,211.07 L250.76,211.04 L252.14,211.00 L253.52,210.95 L254.90,210.88 L256.28,210.77 L257.65,210.68 L259.03,210.59 L260.41,210.54 L261.79,210.47 L263.17,210.40 L264.55,210.31 L265.93,210.25 L267.31,210.16 L268.68,210.11 L270.06,210.04 L271.44,210.01 L272.82,209.91 L274.20,209.82 L275.58,209.72 L276.96,209.65 L278.33,209.59 L279.71,209.52 L281.09,209.42 L282.47,209.34 L283.85,209.25 L285.23,209.18 L286.61,209.10 L287.99,208.99 L289.36,208.92 L290.74,208.84 L292.12,208.78 L293.50,208.69 L294.88,208.60 L296.26,208.50 L297.64,208.42 L299.02,208.32 L300.39,208.25 L301.77,208.18 L303.15,208.12 L304.53,208.04 L305.91,207.97 L307.29,207.92 L308.67,207.81 L310.05,207.72 L311.42,207.63 L312.80,207.54 L314.18,207.44 L315.56,207.34 L316.94,207.26 L318.32,207.18 L319.70,207.14 L321.08,207.07 L322.45,207.01 L323.83,206.91 L325.21,206.82 L326.59,206.74 L327.97,206.65 L329.35,206.61 L330.73,206.52 L332.11,206.45 L333.48,206.34 L334.86,206.26 L336.24,206.19 L337.62,206.13 L339.00,206.05" stroke="#30c0d0" stroke-width="1.2" fill="none" stroke-linejoin="round" />
<path d="M228.70,211.70 L230.08,211.70 L231.46,211.69 L232.84,211.68 L234.22,211.67 L235.59,211.65 L236.97,211.63 L238.35,211.61 L239.73,211.59 L241.11,211.55 L242.49,211.51 L243.87,211.46 L245.24,211.43 L246.62,211.41 L248.00,211.38 L249.38,211.36 L250.76,211.34 L252.14,211.30 L253.52,211.26 L254.90,211.21 L256.28,211.18 L257.65,211.14 L259.03,211.10 L260.41,211.05 L261.79,211.01 L263.17,210.98 L264.55,210.94 L265.93,210.89 L267.31,210.84 L268.68,210.80 L270.06,210.75 L271.44,210.69 L272.82,210.64 L274.20,210.61 L275.58,210.57 L276.96,210.53 L278.33,210.47 L279.71,210.43 L281.09,210.37 L282.47,210.34 L283.85,210.29 L285.23,210.24 L286.61,210.19 L287.99,210.14 L289.36,210.11 L290.74,210.06 L292.12,210.01 L293.50,209.97 L294.88,209.93 L296.26,209.90 L297.64,209.85 L299.02,209.80 L300.39,209.75 L301.77,209.70 L303.15,209.67 L304.53,209.62 L305.91,209.58 L307.29,209.52 L308.67,209.47 L310.05,209.44 L311.42,209.39 L312.80,209.34 L314.18,209.28 L315.56,209.24 L316.94,209.20 L318.32,209.18 L319.70,209.12 L321.08,209.10 L322.45,209.04 L323.83,208.99 L325.21,208.92 L326.59,208.89 L327.97,208.85 L329.35,208.81 L330.73,208.74 L332.11,208.70 L333.48,208.67 L334.86,208.64 L336.24,208.57 L337.62,208.50 L339.00,208.44" stroke="#26c4a8" stroke-width="1.2" fill="none" stroke-linejoin="round" />
<path d="M228.70,211.70 L230.08,211.70 L231.46,211.69 L232.84,211.69 L234.22,211.68 L235.59,211.67 L236.97,211.65 L238.35,211.63 L239.73,211.61 L241.11,211.59 L242.49,211.58 L243.87,211.58 L245.24,211.56 L246.62,211.54 L248.00,211.52 L249.38,211.50 L250.76,211.48 L252.14,211.47 L253.52,211.43 L254.90,211.39 L256.28,211.36 L257.65,211.35 L259.03,211.32 L260.41,211.29 L261.79,211.26 L263.17,211.24 L264.55,211.21 L265.93,211.18 L267.31,211.16 L268.68,211.14 L270.06,211.11 L271.44,211.09 L272.82,211.05 L274.20,211.04 L275.58,211.01 L276.96,210.98 L278.33,210.95 L279.71,210.92 L281.09,210.87 L282.47,210.85 L283.85,210.83 L285.23,210.80 L286.61,210.76 L287.99,210.74 L289.36,210.71 L290.74,210.69 L292.12,210.66 L293.50,210.63 L294.88,210.59 L296.26,210.57 L297.64,210.53 L299.02,210.51 L300.39,210.48 L301.77,210.46 L303.15,210.43 L304.53,210.39 L305.91,210.36 L307.29,210.34 L308.67,210.33 L310.05,210.30 L311.42,210.27 L312.80,210.24 L314.18,210.21 L315.56,210.18 L316.94,210.14 L318.32,210.10 L319.70,210.07 L321.08,210.05 L322.45,210.02 L323.83,210.00 L325.21,209.95 L326.59,209.92 L327.97,209.90 L329.35,209.87 L330.73,209.84 L332.11,209.80 L333.48,209.78 L334.86,209.76 L336.24,209.73 L337.62,209.69 L339.00,209.66" stroke="#20c080" stroke-width="1.2" fill="none" stroke-linejoin="round" />
<path d="M228.70,211.70 L230.08,211.70 L231.46,211.70 L232.84,211.69 L234.22,211.69 L235.59,211.68 L236.97,211.68 L238.35,211.67 L239.73,211.66 L241.11,211.64 L242.49,211.64 L243.87,211.62 L245.24,211.62 L246.62,211.60 L248.00,211.58 L249.38,211.56 L250.76,211.54 L252.14,211.53 L253.52,211.52 L254.90,211.50 L256.28,211.49 L257.65,211.47 L259.03,211.47 L260.41,211.44 L261.79,211.43 L263.17,211.40 L264.55,211.39 L265.93,211.38 L267.31,211.36 L268.68,211.35 L270.06,211.33 L271.44,211.31 L272.82,211.29 L274.20,211.27 L275.58,211.25 L276.96,211.23 L278.33,211.22 L279.71,211.21 L281.09,211.18 L282.47,211.16 L283.85,211.14 L285.23,211.13 L286.61,211.11 L287.99,211.09 L289.36,211.07 L290.74,211.05 L292.12,211.03 L293.50,211.02 L294.88,211.00 L296.26,210.98 L297.64,210.96 L299.02,210.94 L300.39,210.92 L301.77,210.91 L303.15,210.89 L304.53,210.87 L305.91,210.85 L307.29,210.83 L308.67,210.80 L310.05,210.80 L311.42,210.78 L312.80,210.77 L314.18,210.76 L315.56,210.74 L316.94,210.72 L318.32,210.69 L319.70,210.67 L321.08,210.66 L322.45,210.64 L323.83,210.63 L325.21,210.61 L326.59,210.59 L327.97,210.56 L329.35,210.55 L330.73,210.53 L332.11,210.51 L333.48,210.49 L334.86,210.47 L336.24,210.45 L337.62,210.42 L339.00,210.42" stroke="#20b868" stroke-width="1.2" fill="none" stroke-linejoin="round" />
<path d="M228.70,211.70 L230.08,211.70 L231.46,211.70 L232.84,211.70 L234.22,211.69 L235.59,211.69 L236.97,211.68 L238.35,211.68 L239.73,211.67 L241.11,211.67 L242.49,211.66 L243.87,211.65 L245.24,211.65 L246.62,211.64 L248.00,211.63 L249.38,211.63 L250.76,211.62 L252.14,211.60 L253.52,211.59 L254.90,211.59 L256.28,211.58 L257.65,211.57 L259.03,211.56 L260.41,211.55 L261.79,211.55 L263.17,211.54 L264.55,211.53 L265.93,211.52 L267.31,211.50 L268.68,211.49 L270.06,211.48 L271.44,211.47 L272.82,211.46 L274.20,211.45 L275.58,211.45 L276.96,211.43 L278.33,211.42 L279.71,211.41 L281.09,211.41 L282.47,211.40 L283.85,211.38 L285.23,211.37 L286.61,211.36 L287.99,211.35 L289.36,211.34 L290.74,211.33 L292.12,211.32 L293.50,211.31 L294.88,211.29 L296.26,211.29 L297.64,211.28 L299.02,211.27 L300.39,211.26 L301.77,211.26 L303.15,211.24 L304.53,211.22 L305.91,211.21 L307.29,211.20 L308.67,211.19 L310.05,211.18 L311.42,211.17 L312.80,211.16 L314.18,211.15 L315.56,211.14 L316.94,211.13 L318.32,211.12 L319.70,211.11 L321.08,211.10 L322.45,211.08 L323.83,211.08 L325.21,211.07 L326.59,211.06 L327.97,211.05 L329.35,211.04 L330.73,211.02 L332.11,211.01 L333.48,211.01 L334.86,211.00 L336.24,210.99 L337.62,210.98 L339.00,210.97" stroke="#30b050" stroke-width="1.2" fill="none" stroke-linejoin="round" />
<text x="377.80" y="9.50" font-size="12.6" font-weight="bold" text-anchor="start" fill="#000" stroke="#000" stroke-width="0.3"><tspan>(b)</tspan></text>
<defs><pattern id="hatch" width="5" height="5" patternUnits="userSpaceOnUse" patternTransform="rotate(45)"><rect width="5" height="5" fill="#d7d7d7"/><rect x="0" y="0" width="1.8" height="5" fill="#e0e0e0"/></pattern></defs>
<rect x="419" y="46.9" width="144" height="42.1" fill="url(#hatch)"/>
<rect x="424" y="34.9" width="134.1" height="12" fill="#f5a050"/>
<rect x="471.4" y="2.3" width="39.6" height="25.7" fill="#8a8a8a"/>
<rect x="471.4" y="28" width="39.6" height="6.9" fill="#eef4e0"/>
<rect x="472.5" y="34.6" width="37.8" height="12.4" fill="#f8d878"/>
<rect x="428.2" y="16.6" width="32.4" height="18.3" fill="#8a8a8a"/>
<rect x="522.1" y="16.6" width="32.6" height="18.3" fill="#8a8a8a"/>
<text x="0.00" y="0.00" transform="translate(491.20,12.60) scale(1.0,1.1)" font-size="8.3" font-weight="bold" text-anchor="middle" fill="#f2f2f2" stroke="#f2f2f2" stroke-width="0.15"><tspan>Gate</tspan></text>
<text x="0.00" y="0.00" transform="translate(491.20,21.10) scale(1.0,1.1)" font-size="8.3" font-weight="bold" text-anchor="middle" fill="#f2f2f2" stroke="#f2f2f2" stroke-width="0.15"><tspan>(Mo)</tspan></text>
<text x="0.00" y="0.00" transform="translate(444.40,24.60) scale(1.0,1.1)" font-size="8.2" font-weight="bold" text-anchor="middle" fill="#f2f2f2" stroke="#f2f2f2" stroke-width="0.15"><tspan>Source</tspan></text>
<text x="0.00" y="0.00" transform="translate(444.40,32.60) scale(1.0,1.1)" font-size="8.2" font-weight="bold" text-anchor="middle" fill="#f2f2f2" stroke="#f2f2f2" stroke-width="0.15"><tspan>(Mo)</tspan></text>
<text x="0.00" y="0.00" transform="translate(538.40,24.60) scale(1.0,1.1)" font-size="8.2" font-weight="bold" text-anchor="middle" fill="#f2f2f2" stroke="#f2f2f2" stroke-width="0.15"><tspan>Drain</tspan></text>
<text x="0.00" y="0.00" transform="translate(538.40,32.60) scale(1.0,1.1)" font-size="8.2" font-weight="bold" text-anchor="middle" fill="#f2f2f2" stroke="#f2f2f2" stroke-width="0.15"><tspan>(Mo)</tspan></text>
<text x="0.00" y="0.00" transform="translate(491.20,33.30) scale(1.0,1.1)" font-size="5.4" font-weight="bold" text-anchor="middle" fill="#e01028" stroke="#e01028" stroke-width="0.1"><tspan>GI (AlO</tspan><tspan font-size="3.08" dy="0.70">x</tspan><tspan dy="-0.70">)</tspan></text>
<text x="0.00" y="0.00" transform="translate(444.30,44.00) scale(1.0,1.1)" font-size="8.6" font-weight="bold" text-anchor="middle" fill="#000" stroke="#000" stroke-width="0.22"><tspan>n</tspan><tspan font-size="4.90" dy="-3.01">+</tspan></text>
<text x="0.00" y="0.00" transform="translate(538.40,44.00) scale(1.0,1.1)" font-size="8.6" font-weight="bold" text-anchor="middle" fill="#000" stroke="#000" stroke-width="0.22"><tspan>n</tspan><tspan font-size="4.90" dy="-3.01">+</tspan></text>
<text x="0.00" y="0.00" transform="translate(490.40,43.70) scale(1.0,1.1)" font-size="8.4" font-weight="bold" text-anchor="middle" fill="#000" stroke="#000" stroke-width="0.22"><tspan>a-IGZO</tspan></text>
<line x1="472.50" y1="34.60" x2="472.50" y2="58.10" stroke="#444" stroke-width="0.7" />
<line x1="510.00" y1="34.60" x2="510.00" y2="58.10" stroke="#444" stroke-width="0.7" />
<line x1="474.00" y1="49.60" x2="508.50" y2="49.60" stroke="#333" stroke-width="0.7" />
<polygon points="473.00,49.60 476.00,48.10 476.00,51.10" fill="#333" />
<polygon points="509.50,49.60 506.50,51.10 506.50,48.10" fill="#333" />
<text x="0.00" y="0.00" transform="translate(491.50,59.50) scale(1.0,1.1)" font-size="8.6" font-weight="bold" text-anchor="middle" fill="#000" stroke="#000" stroke-width="0.22"><tspan font-style="italic">L</tspan></text>
<text x="0.00" y="0.00" transform="translate(490.50,81.00) scale(1.0,1.1)" font-size="8.5" font-weight="bold" text-anchor="middle" fill="#000" stroke="#000" stroke-width="0.22"><tspan>Glass substrate</tspan></text>
<defs><filter id="grain" x="0" y="0" width="100%" height="100%"><feTurbulence type="fractalNoise" baseFrequency="0.75" numOctaves="1" seed="21"/><feColorMatrix type="matrix" values="0 0 0 0 1  0 0 0 0 1  0 0 0 0 1  1.4 0 0 0 -0.55"/></filter><filter id="grainD" x="0" y="0" width="100%" height="100%"><feTurbulence type="fractalNoise" baseFrequency="0.75" numOctaves="1" seed="33"/><feColorMatrix type="matrix" values="0 0 0 0 0  0 0 0 0 0  0 0 0 0 0  -1.4 0 0 0 0.85"/></filter></defs>
<rect x="582.3" y="1.1" width="92" height="88.1" fill="#3e3e3e"/>
<rect x="582.3" y="1.1" width="92" height="18" fill="#242424"/>
<rect x="582.3" y="19.1" width="92" height="21.3" fill="#6e6e6e"/>
<rect x="582.3" y="1.1" width="92" height="88.1" fill="#fff" opacity="0.4" filter="url(#grain)"/>
<rect x="582.3" y="1.1" width="92" height="88.1" fill="#000" opacity="0.5" filter="url(#grainD)"/>
<line x1="582.30" y1="19.10" x2="674.30" y2="19.10" stroke="#e8dc20" stroke-width="1.1" stroke-dasharray="2.6,1.6"/>
<line x1="582.30" y1="40.40" x2="674.30" y2="40.40" stroke="#e8dc20" stroke-width="1.1" stroke-dasharray="2.6,1.6"/>
<text x="0.00" y="0.00" transform="translate(644.50,14.50) scale(1.0,1.1)" font-size="8.4" font-weight="bold" text-anchor="middle" fill="#f2e010" stroke="#f2e010" stroke-width="0.15"><tspan>Mo</tspan></text>
<text x="0.00" y="0.00" transform="translate(644.50,34.00) scale(1.0,1.1)" font-size="8.4" font-weight="bold" text-anchor="middle" fill="#f2e010" stroke="#f2e010" stroke-width="0.15"><tspan>AlO</tspan><tspan font-size="4.79" dy="1.09">x</tspan></text>
<text x="0.00" y="0.00" transform="translate(645.00,63.30) scale(1.0,1.1)" font-size="8.4" font-weight="bold" text-anchor="middle" fill="#f2e010" stroke="#f2e010" stroke-width="0.15"><tspan>a-IGZO</tspan></text>
<text x="0.00" y="0.00" transform="translate(596.70,31.70) scale(1.0,1.1)" font-size="8.3" font-weight="bold" text-anchor="start" fill="#fff" stroke="#fff" stroke-width="0.15"><tspan>4.0 nm</tspan></text>
<line x1="591.80" y1="22.50" x2="591.80" y2="36.50" stroke="#fff" stroke-width="1.1" />
<polygon points="591.80,20.20 593.40,23.40 590.20,23.40" fill="#fff" />
<polygon points="591.80,38.80 590.20,35.60 593.40,35.60" fill="#fff" />
<text x="0.00" y="0.00" transform="translate(589.50,82.00) scale(1.0,1.1)" font-size="8.2" font-weight="bold" text-anchor="start" fill="#fff" stroke="#fff" stroke-width="0.15"><tspan>5 nm</tspan></text>
<line x1="585.40" y1="84.40" x2="615.50" y2="84.40" stroke="#fff" stroke-width="1.3" />
<rect x="439" y="100.6" width="99" height="97.0" fill="none" stroke="#888888" stroke-width="0.9"/>
<text x="0.00" y="0.00" transform="translate(438.50,105.00) scale(1.0,1.1)" font-size="9.2" font-weight="bold" text-anchor="end" fill="#000" stroke="#000" stroke-width="0.22"><tspan>10</tspan><tspan font-size="5.52" dy="-2.94">−4</tspan></text>
<text x="0.00" y="0.00" transform="translate(438.50,124.20) scale(1.0,1.1)" font-size="9.2" font-weight="bold" text-anchor="end" fill="#000" stroke="#000" stroke-width="0.22"><tspan>10</tspan><tspan font-size="5.52" dy="-2.94">−6</tspan></text>
<text x="0.00" y="0.00" transform="translate(438.50,143.40) scale(1.0,1.1)" font-size="9.2" font-weight="bold" text-anchor="end" fill="#000" stroke="#000" stroke-width="0.22"><tspan>10</tspan><tspan font-size="5.52" dy="-2.94">−8</tspan></text>
<text x="0.00" y="0.00" transform="translate(438.50,162.60) scale(1.0,1.1)" font-size="9.2" font-weight="bold" text-anchor="end" fill="#000" stroke="#000" stroke-width="0.22"><tspan>10</tspan><tspan font-size="5.52" dy="-2.94">−10</tspan></text>
<text x="0.00" y="0.00" transform="translate(438.50,181.80) scale(1.0,1.1)" font-size="9.2" font-weight="bold" text-anchor="end" fill="#000" stroke="#000" stroke-width="0.22"><tspan>10</tspan><tspan font-size="5.52" dy="-2.94">−12</tspan></text>
<text x="0.00" y="0.00" transform="translate(438.50,201.00) scale(1.0,1.1)" font-size="9.2" font-weight="bold" text-anchor="end" fill="#000" stroke="#000" stroke-width="0.22"><tspan>10</tspan><tspan font-size="5.52" dy="-2.94">−14</tspan></text>
<text x="0.00" y="0.00" transform="translate(439.00,208.30) scale(1.0,1.1)" font-size="8.4" font-weight="bold" text-anchor="middle" fill="#000" stroke="#000" stroke-width="0.22"><tspan>−1.0</tspan></text>
<line x1="439.00" y1="197.60" x2="439.00" y2="195.60" stroke="#888888" stroke-width="0.7" />
<text x="0.00" y="0.00" transform="translate(463.75,208.30) scale(1.0,1.1)" font-size="8.4" font-weight="bold" text-anchor="middle" fill="#000" stroke="#000" stroke-width="0.22"><tspan>−0.5</tspan></text>
<line x1="463.75" y1="197.60" x2="463.75" y2="195.60" stroke="#888888" stroke-width="0.7" />
<text x="0.00" y="0.00" transform="translate(488.50,208.30) scale(1.0,1.1)" font-size="8.4" font-weight="bold" text-anchor="middle" fill="#000" stroke="#000" stroke-width="0.22"><tspan>0.0</tspan></text>
<line x1="488.50" y1="197.60" x2="488.50" y2="195.60" stroke="#888888" stroke-width="0.7" />
<text x="0.00" y="0.00" transform="translate(513.25,208.30) scale(1.0,1.1)" font-size="8.4" font-weight="bold" text-anchor="middle" fill="#000" stroke="#000" stroke-width="0.22"><tspan>0.5</tspan></text>
<line x1="513.25" y1="197.60" x2="513.25" y2="195.60" stroke="#888888" stroke-width="0.7" />
<text x="0.00" y="0.00" transform="translate(538.00,208.30) scale(1.0,1.1)" font-size="8.4" font-weight="bold" text-anchor="middle" fill="#000" stroke="#000" stroke-width="0.22"><tspan>1.0</tspan></text>
<line x1="538.00" y1="197.60" x2="538.00" y2="195.60" stroke="#888888" stroke-width="0.7" />
<line x1="439.00" y1="187.40" x2="440.50" y2="187.40" stroke="#888888" stroke-width="0.6" />
<line x1="439.00" y1="177.80" x2="440.50" y2="177.80" stroke="#888888" stroke-width="0.6" />
<line x1="439.00" y1="168.20" x2="440.50" y2="168.20" stroke="#888888" stroke-width="0.6" />
<line x1="439.00" y1="158.60" x2="440.50" y2="158.60" stroke="#888888" stroke-width="0.6" />
<line x1="439.00" y1="149.00" x2="440.50" y2="149.00" stroke="#888888" stroke-width="0.6" />
<line x1="439.00" y1="139.40" x2="440.50" y2="139.40" stroke="#888888" stroke-width="0.6" />
<line x1="439.00" y1="129.80" x2="440.50" y2="129.80" stroke="#888888" stroke-width="0.6" />
<line x1="439.00" y1="120.20" x2="440.50" y2="120.20" stroke="#888888" stroke-width="0.6" />
<line x1="439.00" y1="110.60" x2="440.50" y2="110.60" stroke="#888888" stroke-width="0.6" />
<line x1="439.00" y1="101.00" x2="440.50" y2="101.00" stroke="#888888" stroke-width="0.6" />
<text x="0.00" y="0.00" transform="translate(487.00,221.10) scale(1.0,1.1)" font-size="8.5" font-weight="bold" text-anchor="middle" fill="#000" stroke="#000" stroke-width="0.22"><tspan>Gate voltage/V</tspan></text>
<text x="0.00" y="0.00" transform="translate(417.20,147.80) rotate(-90) scale(1.0,1.1)" font-size="9.1" font-weight="bold" text-anchor="middle" fill="#000" stroke="#000" stroke-width="0.22"><tspan>Drain current/A</tspan></text>
<text x="0.00" y="0.00" transform="translate(441.50,109.60) scale(1.0,1.1)" font-size="5.7" font-weight="bold" text-anchor="start" fill="#e01028" stroke="#e01028" stroke-width="0.12"><tspan>Stress </tspan><tspan font-style="italic">V</tspan><tspan font-size="3.25" dy="0.74">GS</tspan><tspan dy="-0.74">=−1.0 V</tspan></text>
<text x="0.00" y="0.00" transform="translate(441.50,119.20) scale(1.0,1.1)" font-size="5.7" font-weight="bold" text-anchor="start" fill="#000" stroke="#000" stroke-width="0.12"><tspan font-style="italic">W</tspan><tspan>/</tspan><tspan font-style="italic">L</tspan><tspan>=20 μm/2.4 μm</tspan></text>
<text x="0.00" y="0.00" transform="translate(441.50,127.30) scale(1.0,1.1)" font-size="5.7" font-weight="bold" text-anchor="start" fill="#000" stroke="#000" stroke-width="0.12"><tspan>Stress time (sec)</tspan></text>
<line x1="442.20" y1="132.40" x2="457.30" y2="132.40" stroke="#000" stroke-width="1.4" />
<text x="0.00" y="0.00" transform="translate(460.30,134.40) scale(1.0,1.1)" font-size="5.7" font-weight="bold" text-anchor="start" fill="#000" stroke="#000" stroke-width="0.12"><tspan>0</tspan></text>
<line x1="442.20" y1="140.69" x2="457.30" y2="140.69" stroke="#1a8a3a" stroke-width="1.4" />
<text x="0.00" y="0.00" transform="translate(460.30,142.69) scale(1.0,1.1)" font-size="5.7" font-weight="bold" text-anchor="start" fill="#000" stroke="#000" stroke-width="0.12"><tspan>100</tspan></text>
<line x1="442.20" y1="148.98" x2="457.30" y2="148.98" stroke="#b88ad8" stroke-width="1.4" />
<text x="0.00" y="0.00" transform="translate(460.30,150.98) scale(1.0,1.1)" font-size="5.7" font-weight="bold" text-anchor="start" fill="#000" stroke="#000" stroke-width="0.12"><tspan>500</tspan></text>
<line x1="442.20" y1="157.27" x2="457.30" y2="157.27" stroke="#d8a030" stroke-width="1.4" />
<text x="0.00" y="0.00" transform="translate(460.30,159.27) scale(1.0,1.1)" font-size="5.7" font-weight="bold" text-anchor="start" fill="#000" stroke="#000" stroke-width="0.12"><tspan>1 000</tspan></text>
<line x1="442.20" y1="165.56" x2="457.30" y2="165.56" stroke="#20c0d8" stroke-width="1.4" />
<text x="0.00" y="0.00" transform="translate(460.30,167.56) scale(1.0,1.1)" font-size="5.7" font-weight="bold" text-anchor="start" fill="#000" stroke="#000" stroke-width="0.12"><tspan>2 000</tspan></text>
<line x1="442.20" y1="173.85" x2="457.30" y2="173.85" stroke="#8a5a4a" stroke-width="1.4" />
<text x="0.00" y="0.00" transform="translate(460.30,175.85) scale(1.0,1.1)" font-size="5.7" font-weight="bold" text-anchor="start" fill="#000" stroke="#000" stroke-width="0.12"><tspan>3 600</tspan></text>
<line x1="442.20" y1="182.14" x2="457.30" y2="182.14" stroke="#f06a20" stroke-width="1.4" />
<text x="0.00" y="0.00" transform="translate(460.30,184.14) scale(1.0,1.1)" font-size="5.7" font-weight="bold" text-anchor="start" fill="#000" stroke="#000" stroke-width="0.12"><tspan>7 200</tspan></text>
<path d="M440.00,187.79 L441.37,186.55 L442.53,186.05 L443.33,197.29 L444.10,192.89 L445.07,190.57 L446.06,187.36 L447.33,186.10 L448.11,185.25 L448.93,190.01 L450.25,189.66 L450.94,188.18 L452.33,185.78 L453.43,189.64 L454.56,189.16 L455.71,191.12 L456.83,196.09 L457.90,186.75 L458.55,196.64 L459.54,187.38 L460.90,192.12 L462.08,195.84 L462.91,189.39 L464.21,186.66 L465.42,186.20 L466.57,193.64 L467.93,195.37 L468.94,187.43 L469.66,191.50 L470.66,185.88 L471.99,191.24 L473.15,187.71 L473.94,185.15 L474.82,188.28 L475.76,189.64 L477.02,195.97 L477.76,189.87 L478.50,193.16 L479.88,187.48 L481.09,188.69 L481.70,194.40" stroke="#b88ad8" stroke-width="0.8" fill="none" stroke-linejoin="round" />
<path d="M440.00,187.09 L440.95,187.85 L441.88,190.49 L442.81,192.24 L443.64,186.17 L444.31,186.31 L445.33,189.43 L446.57,191.21 L447.74,197.05 L448.39,185.21 L449.10,189.75 L450.16,194.15 L451.04,196.87 L451.64,195.28 L452.41,195.76 L453.04,196.87 L454.25,197.18 L455.31,187.19 L456.69,190.43 L457.35,192.45 L458.35,190.82 L459.07,186.50 L460.14,190.57 L460.84,190.41 L462.02,193.80 L463.00,189.84 L463.89,187.77 L464.64,190.49 L465.33,193.92 L466.50,192.52 L467.12,189.48 L468.06,186.15 L469.44,194.29 L470.44,193.67 L471.20,187.82 L472.22,194.15 L473.34,185.08 L474.43,196.18 L475.62,196.41 L477.01,187.75 L477.84,191.73 L479.23,189.54 L480.58,195.46 L481.59,192.69" stroke="#1a8a3a" stroke-width="0.8" fill="none" stroke-linejoin="round" />
<path d="M440.00,194.63 L440.84,195.40 L441.59,189.55 L442.96,195.42 L443.81,188.57 L444.90,195.36 L446.05,196.51 L447.23,195.10 L448.31,189.45 L449.26,191.03 L450.28,195.31 L451.09,185.84 L452.28,188.33 L453.22,186.44 L454.48,188.37 L455.31,194.89 L456.32,188.41 L457.63,190.07 L458.52,196.87 L459.75,194.19 L460.55,195.00 L461.63,195.21 L462.52,194.60 L463.75,189.77 L464.88,194.60 L466.27,196.32 L467.50,186.68 L468.59,193.43 L469.26,190.69 L470.55,196.14 L471.90,186.14 L472.98,195.64 L474.10,188.94 L474.73,196.31 L476.02,193.04 L476.91,195.19 L478.17,193.91 L479.25,188.93 L480.08,189.40 L480.94,191.40 L481.64,193.87" stroke="#d8a030" stroke-width="0.8" fill="none" stroke-linejoin="round" />
<path d="M440.00,186.96 L440.80,189.79 L441.75,194.62 L442.43,187.74 L443.26,187.17 L444.46,186.34 L445.10,191.84 L446.29,195.15 L447.34,189.02 L448.65,194.05 L449.63,191.92 L450.98,197.27 L452.32,186.63 L453.18,190.02 L453.92,194.37 L454.57,195.92 L455.64,192.55 L456.57,196.52 L457.63,196.03 L458.97,193.51 L460.36,191.02 L461.25,195.38 L462.27,188.80 L463.42,190.85 L464.12,195.31 L465.12,196.95 L466.14,196.52 L466.98,187.68 L468.00,194.43 L469.26,192.96 L469.96,189.85 L470.58,189.57 L471.94,189.27 L473.10,192.64 L473.81,193.47 L474.48,187.27 L475.54,186.57 L476.91,190.23 L478.02,196.87 L478.70,197.29 L479.34,192.40 L480.46,197.13 L481.35,196.65" stroke="#000" stroke-width="0.8" fill="none" stroke-linejoin="round" />
<path d="M440.00,190.86 L440.74,187.90 L441.63,189.26 L442.53,194.94 L443.43,192.73 L444.06,186.73 L445.22,195.95 L446.07,185.40 L446.86,189.43 L447.75,191.91 L448.60,192.96 L449.82,194.63 L451.02,192.18 L451.83,195.35 L452.66,195.58 L453.62,192.74 L454.61,193.04 L455.49,192.11 L456.68,189.44 L457.76,190.61 L458.73,189.72 L459.77,193.72 L460.51,186.80 L461.77,186.09 L463.00,194.34 L463.78,192.82 L464.58,195.84 L465.34,186.42 L465.97,193.84 L466.74,188.87 L468.12,194.05 L469.31,192.08 L470.42,185.14 L471.67,189.05 L472.95,190.10 L474.28,185.01 L475.67,186.18 L476.68,190.92 L478.06,193.82 L479.45,196.14 L480.39,186.82 L481.11,193.73" stroke="#8a5a4a" stroke-width="0.8" fill="none" stroke-linejoin="round" />
<path d="M440.00,193.18 L440.88,192.35 L442.00,188.11 L443.16,187.45 L443.78,185.79 L444.77,193.56 L445.55,189.88 L446.71,188.24 L447.72,192.42 L448.65,187.56 L449.80,193.62 L450.55,194.93 L451.68,195.66 L452.90,191.08 L454.07,188.87 L455.20,186.01 L456.07,191.22 L457.38,193.41 L458.71,195.69 L460.09,192.60 L461.18,190.77 L461.96,194.80 L463.04,186.99 L463.84,187.72 L465.01,192.35 L465.78,193.46 L466.83,188.28 L467.78,197.21 L468.49,187.91 L469.57,195.33 L470.91,189.91 L472.12,186.46 L473.03,195.54 L474.16,190.49 L475.24,191.00 L476.28,195.87 L477.66,187.46 L478.87,196.62 L479.95,191.16 L480.85,190.95 L481.91,192.52" stroke="#20c0d8" stroke-width="0.8" fill="none" stroke-linejoin="round" />
<path d="M440.00,192.99 L440.82,188.93 L441.58,189.68 L442.24,187.02 L443.15,186.82 L444.14,185.42 L445.13,191.16 L446.23,192.73 L447.59,188.30 L448.57,190.86 L449.87,188.87 L451.00,190.22 L452.02,188.57 L452.94,188.04 L453.92,191.23 L454.64,185.06 L455.98,188.59 L457.14,192.24 L458.33,189.10 L459.69,189.62 L460.65,185.64 L461.37,191.13 L462.69,187.21 L463.72,190.11 L464.80,186.48 L466.13,188.97 L467.30,190.20 L468.25,190.31 L469.00,188.93 L470.13,189.66 L470.96,185.63 L471.64,185.11 L472.39,188.37 L473.44,190.35 L474.39,190.91 L475.02,187.13 L475.71,188.65 L476.77,189.25 L477.72,187.31 L478.59,184.96 L479.34,188.38 L480.40,184.90 L481.67,184.25" stroke="#f06a20" stroke-width="1.1" fill="none" stroke-linejoin="round" />
<path d="M481.50,197.00 L481.75,195.96 L482.05,194.70 L482.41,193.22 L482.82,191.50 L483.28,189.53 L483.80,187.30 L484.38,184.79 L485.00,182.00 L485.70,178.75 L486.49,174.98 L487.34,170.85 L488.24,166.50 L489.17,162.09 L490.10,157.77 L491.02,153.69 L491.90,150.00 L492.72,146.62 L493.50,143.37 L494.26,140.25 L495.02,137.28 L495.82,134.46 L496.69,131.80 L497.64,129.31 L498.70,127.00 L499.90,124.88 L501.20,122.95 L502.59,121.19 L504.05,119.59 L505.54,118.14 L507.05,116.82 L508.54,115.61 L510.00,114.50 L511.40,113.55 L512.77,112.79 L514.13,112.18 L515.50,111.69 L516.91,111.26 L518.38,110.87 L519.93,110.46 L521.60,110.00 L523.51,109.49 L525.69,108.97 L528.02,108.46 L530.38,107.97 L532.64,107.51 L534.70,107.11 L536.43,106.76 L537.70,106.50" stroke="#000" stroke-width="1.4" fill="none" stroke-linejoin="round" />
<path d="M481.50,197.00 L481.75,195.96 L482.05,194.70 L482.41,193.22 L482.82,191.50 L483.28,189.53 L483.80,187.30 L484.38,184.79 L485.00,182.00 L485.70,178.75 L486.49,174.98 L487.34,170.85 L488.24,166.50 L489.17,162.09 L490.10,157.77 L491.02,153.69 L491.90,150.00 L492.72,146.62 L493.50,143.37 L494.26,140.25 L495.02,137.28 L495.82,134.46 L496.69,131.80 L497.64,129.31 L498.70,127.00 L499.90,124.88 L501.20,122.95 L502.59,121.19 L504.05,119.59 L505.54,118.14 L507.05,116.82 L508.54,115.61 L510.00,114.50 L511.40,113.55 L512.77,112.79 L514.13,112.18 L515.50,111.69 L516.91,111.26 L518.38,110.87 L519.93,110.46 L521.60,110.00 L523.51,109.49 L525.69,108.97 L528.02,108.46 L530.38,107.97 L532.64,107.51 L534.70,107.11 L536.43,106.76 L537.70,106.50" stroke="#1a8a3a" stroke-width="1.4" fill="none" stroke-linejoin="round" />
<path d="M481.50,197.00 L481.75,195.96 L482.05,194.70 L482.41,193.22 L482.82,191.50 L483.28,189.53 L483.80,187.30 L484.38,184.79 L485.00,182.00 L485.70,178.75 L486.49,174.98 L487.34,170.85 L488.24,166.50 L489.17,162.09 L490.10,157.77 L491.02,153.69 L491.90,150.00 L492.72,146.62 L493.50,143.37 L494.26,140.25 L495.02,137.28 L495.82,134.46 L496.69,131.80 L497.64,129.31 L498.70,127.00 L499.90,124.88 L501.20,122.95 L502.59,121.19 L504.05,119.59 L505.54,118.14 L507.05,116.82 L508.54,115.61 L510.00,114.50 L511.40,113.55 L512.77,112.79 L514.13,112.18 L515.50,111.69 L516.91,111.26 L518.38,110.87 L519.93,110.46 L521.60,110.00 L523.51,109.49 L525.69,108.97 L528.02,108.46 L530.38,107.97 L532.64,107.51 L534.70,107.11 L536.43,106.76 L537.70,106.50" stroke="#b88ad8" stroke-width="1.4" fill="none" stroke-linejoin="round" />
<path d="M481.50,197.00 L481.75,195.96 L482.05,194.70 L482.41,193.22 L482.82,191.50 L483.28,189.53 L483.80,187.30 L484.38,184.79 L485.00,182.00 L485.70,178.75 L486.49,174.98 L487.34,170.85 L488.24,166.50 L489.17,162.09 L490.10,157.77 L491.02,153.69 L491.90,150.00 L492.72,146.62 L493.50,143.37 L494.26,140.25 L495.02,137.28 L495.82,134.46 L496.69,131.80 L497.64,129.31 L498.70,127.00 L499.90,124.88 L501.20,122.95 L502.59,121.19 L504.05,119.59 L505.54,118.14 L507.05,116.82 L508.54,115.61 L510.00,114.50 L511.40,113.55 L512.77,112.79 L514.13,112.18 L515.50,111.69 L516.91,111.26 L518.38,110.87 L519.93,110.46 L521.60,110.00 L523.51,109.49 L525.69,108.97 L528.02,108.46 L530.38,107.97 L532.64,107.51 L534.70,107.11 L536.43,106.76 L537.70,106.50" stroke="#d8a030" stroke-width="1.4" fill="none" stroke-linejoin="round" />
<path d="M481.50,197.00 L481.75,195.96 L482.05,194.70 L482.41,193.22 L482.82,191.50 L483.28,189.53 L483.80,187.30 L484.38,184.79 L485.00,182.00 L485.70,178.75 L486.49,174.98 L487.34,170.85 L488.24,166.50 L489.17,162.09 L490.10,157.77 L491.02,153.69 L491.90,150.00 L492.72,146.62 L493.50,143.37 L494.26,140.25 L495.02,137.28 L495.82,134.46 L496.69,131.80 L497.64,129.31 L498.70,127.00 L499.90,124.88 L501.20,122.95 L502.59,121.19 L504.05,119.59 L505.54,118.14 L507.05,116.82 L508.54,115.61 L510.00,114.50 L511.40,113.55 L512.77,112.79 L514.13,112.18 L515.50,111.69 L516.91,111.26 L518.38,110.87 L519.93,110.46 L521.60,110.00 L523.51,109.49 L525.69,108.97 L528.02,108.46 L530.38,107.97 L532.64,107.51 L534.70,107.11 L536.43,106.76 L537.70,106.50" stroke="#20c0d8" stroke-width="1.4" fill="none" stroke-linejoin="round" />
<path d="M481.50,197.00 L481.75,195.96 L482.05,194.70 L482.41,193.22 L482.82,191.50 L483.28,189.53 L483.80,187.30 L484.38,184.79 L485.00,182.00 L485.70,178.75 L486.49,174.98 L487.34,170.85 L488.24,166.50 L489.17,162.09 L490.10,157.77 L491.02,153.69 L491.90,150.00 L492.72,146.62 L493.50,143.37 L494.26,140.25 L495.02,137.28 L495.82,134.46 L496.69,131.80 L497.64,129.31 L498.70,127.00 L499.90,124.88 L501.20,122.95 L502.59,121.19 L504.05,119.59 L505.54,118.14 L507.05,116.82 L508.54,115.61 L510.00,114.50 L511.40,113.55 L512.77,112.79 L514.13,112.18 L515.50,111.69 L516.91,111.26 L518.38,110.87 L519.93,110.46 L521.60,110.00 L523.51,109.49 L525.69,108.97 L528.02,108.46 L530.38,107.97 L532.64,107.51 L534.70,107.11 L536.43,106.76 L537.70,106.50" stroke="#8a5a4a" stroke-width="1.4" fill="none" stroke-linejoin="round" />
<path d="M481.50,197.00 L481.75,195.96 L482.05,194.70 L482.41,193.22 L482.82,191.50 L483.28,189.53 L483.80,187.30 L484.38,184.79 L485.00,182.00 L485.70,178.75 L486.49,174.98 L487.34,170.85 L488.24,166.50 L489.17,162.09 L490.10,157.77 L491.02,153.69 L491.90,150.00 L492.72,146.62 L493.50,143.37 L494.26,140.25 L495.02,137.28 L495.82,134.46 L496.69,131.80 L497.64,129.31 L498.70,127.00 L499.90,124.88 L501.20,122.95 L502.59,121.19 L504.05,119.59 L505.54,118.14 L507.05,116.82 L508.54,115.61 L510.00,114.50 L511.40,113.55 L512.77,112.79 L514.13,112.18 L515.50,111.69 L516.91,111.26 L518.38,110.87 L519.93,110.46 L521.60,110.00 L523.51,109.49 L525.69,108.97 L528.02,108.46 L530.38,107.97 L532.64,107.51 L534.70,107.11 L536.43,106.76 L537.70,106.50" stroke="#f06a20" stroke-width="1.7" fill="none" stroke-linejoin="round" />
<text x="0.00" y="0.00" transform="translate(531.00,191.40) scale(1.0,1.1)" font-size="8.2" font-weight="bold" text-anchor="end" fill="#000" stroke="#000" stroke-width="0.22"><tspan font-style="italic">V</tspan><tspan font-size="4.67" dy="1.07">DS</tspan><tspan dy="-1.07">=1.0 V</tspan></text>
<text x="0.00" y="0.00" transform="translate(516.30,154.00) scale(1.0,1.1)" font-size="8.4" font-weight="bold" text-anchor="middle" fill="#e01028" stroke="#e01028" stroke-width="0.22"><tspan>|Δ</tspan><tspan font-style="italic">V</tspan><tspan font-size="4.79" dy="1.09">th</tspan><tspan dy="-1.09">|</tspan></text>
<text x="0.00" y="0.00" transform="translate(517.00,167.40) scale(1.0,1.1)" font-size="8.2" font-weight="bold" text-anchor="middle" fill="#e01028" stroke="#e01028" stroke-width="0.22"><tspan>&lt; 0.01 V</tspan></text>
<rect x="575" y="100.6" width="98.60000000000002" height="97.0" fill="none" stroke="#888888" stroke-width="0.9"/>
<text x="0.00" y="0.00" transform="translate(574.50,105.00) scale(1.0,1.1)" font-size="9.2" font-weight="bold" text-anchor="end" fill="#000" stroke="#000" stroke-width="0.22"><tspan>10</tspan><tspan font-size="5.52" dy="-2.94">−4</tspan></text>
<text x="0.00" y="0.00" transform="translate(574.50,124.20) scale(1.0,1.1)" font-size="9.2" font-weight="bold" text-anchor="end" fill="#000" stroke="#000" stroke-width="0.22"><tspan>10</tspan><tspan font-size="5.52" dy="-2.94">−6</tspan></text>
<text x="0.00" y="0.00" transform="translate(574.50,143.40) scale(1.0,1.1)" font-size="9.2" font-weight="bold" text-anchor="end" fill="#000" stroke="#000" stroke-width="0.22"><tspan>10</tspan><tspan font-size="5.52" dy="-2.94">−8</tspan></text>
<text x="0.00" y="0.00" transform="translate(574.50,162.60) scale(1.0,1.1)" font-size="9.2" font-weight="bold" text-anchor="end" fill="#000" stroke="#000" stroke-width="0.22"><tspan>10</tspan><tspan font-size="5.52" dy="-2.94">−10</tspan></text>
<text x="0.00" y="0.00" transform="translate(574.50,181.80) scale(1.0,1.1)" font-size="9.2" font-weight="bold" text-anchor="end" fill="#000" stroke="#000" stroke-width="0.22"><tspan>10</tspan><tspan font-size="5.52" dy="-2.94">−12</tspan></text>
<text x="0.00" y="0.00" transform="translate(574.50,201.00) scale(1.0,1.1)" font-size="9.2" font-weight="bold" text-anchor="end" fill="#000" stroke="#000" stroke-width="0.22"><tspan>10</tspan><tspan font-size="5.52" dy="-2.94">−14</tspan></text>
<text x="0.00" y="0.00" transform="translate(575.00,208.30) scale(1.0,1.1)" font-size="8.4" font-weight="bold" text-anchor="middle" fill="#000" stroke="#000" stroke-width="0.22"><tspan>−1.0</tspan></text>
<line x1="575.00" y1="197.60" x2="575.00" y2="195.60" stroke="#888888" stroke-width="0.7" />
<text x="0.00" y="0.00" transform="translate(599.65,208.30) scale(1.0,1.1)" font-size="8.4" font-weight="bold" text-anchor="middle" fill="#000" stroke="#000" stroke-width="0.22"><tspan>−0.5</tspan></text>
<line x1="599.65" y1="197.60" x2="599.65" y2="195.60" stroke="#888888" stroke-width="0.7" />
<text x="0.00" y="0.00" transform="translate(624.30,208.30) scale(1.0,1.1)" font-size="8.4" font-weight="bold" text-anchor="middle" fill="#000" stroke="#000" stroke-width="0.22"><tspan>0.0</tspan></text>
<line x1="624.30" y1="197.60" x2="624.30" y2="195.60" stroke="#888888" stroke-width="0.7" />
<text x="0.00" y="0.00" transform="translate(648.95,208.30) scale(1.0,1.1)" font-size="8.4" font-weight="bold" text-anchor="middle" fill="#000" stroke="#000" stroke-width="0.22"><tspan>0.5</tspan></text>
<line x1="648.95" y1="197.60" x2="648.95" y2="195.60" stroke="#888888" stroke-width="0.7" />
<text x="0.00" y="0.00" transform="translate(673.60,208.30) scale(1.0,1.1)" font-size="8.4" font-weight="bold" text-anchor="middle" fill="#000" stroke="#000" stroke-width="0.22"><tspan>1.0</tspan></text>
<line x1="673.60" y1="197.60" x2="673.60" y2="195.60" stroke="#888888" stroke-width="0.7" />
<line x1="575.00" y1="187.40" x2="576.50" y2="187.40" stroke="#888888" stroke-width="0.6" />
<line x1="575.00" y1="177.80" x2="576.50" y2="177.80" stroke="#888888" stroke-width="0.6" />
<line x1="575.00" y1="168.20" x2="576.50" y2="168.20" stroke="#888888" stroke-width="0.6" />
<line x1="575.00" y1="158.60" x2="576.50" y2="158.60" stroke="#888888" stroke-width="0.6" />
<line x1="575.00" y1="149.00" x2="576.50" y2="149.00" stroke="#888888" stroke-width="0.6" />
<line x1="575.00" y1="139.40" x2="576.50" y2="139.40" stroke="#888888" stroke-width="0.6" />
<line x1="575.00" y1="129.80" x2="576.50" y2="129.80" stroke="#888888" stroke-width="0.6" />
<line x1="575.00" y1="120.20" x2="576.50" y2="120.20" stroke="#888888" stroke-width="0.6" />
<line x1="575.00" y1="110.60" x2="576.50" y2="110.60" stroke="#888888" stroke-width="0.6" />
<line x1="575.00" y1="101.00" x2="576.50" y2="101.00" stroke="#888888" stroke-width="0.6" />
<text x="0.00" y="0.00" transform="translate(622.80,221.10) scale(1.0,1.1)" font-size="8.5" font-weight="bold" text-anchor="middle" fill="#000" stroke="#000" stroke-width="0.22"><tspan>Gate voltage/V</tspan></text>
<text x="0.00" y="0.00" transform="translate(552.20,147.80) rotate(-90) scale(1.0,1.1)" font-size="9.1" font-weight="bold" text-anchor="middle" fill="#000" stroke="#000" stroke-width="0.22"><tspan>Drain current/A</tspan></text>
<text x="0.00" y="0.00" transform="translate(577.50,109.60) scale(1.0,1.1)" font-size="5.7" font-weight="bold" text-anchor="start" fill="#e01028" stroke="#e01028" stroke-width="0.12"><tspan>Stress </tspan><tspan font-style="italic">V</tspan><tspan font-size="3.25" dy="0.74">GS</tspan><tspan dy="-0.74">=−1.0 V</tspan></text>
<text x="0.00" y="0.00" transform="translate(577.50,119.20) scale(1.0,1.1)" font-size="5.7" font-weight="bold" text-anchor="start" fill="#000" stroke="#000" stroke-width="0.12"><tspan font-style="italic">W</tspan><tspan>/</tspan><tspan font-style="italic">L</tspan><tspan>=20 μm/2.4 μm</tspan></text>
<text x="0.00" y="0.00" transform="translate(577.50,127.30) scale(1.0,1.1)" font-size="5.7" font-weight="bold" text-anchor="start" fill="#000" stroke="#000" stroke-width="0.12"><tspan>Stress time (sec)</tspan></text>
<line x1="578.20" y1="132.40" x2="593.30" y2="132.40" stroke="#000" stroke-width="1.4" />
<text x="0.00" y="0.00" transform="translate(596.30,134.40) scale(1.0,1.1)" font-size="5.7" font-weight="bold" text-anchor="start" fill="#000" stroke="#000" stroke-width="0.12"><tspan>0</tspan></text>
<line x1="578.20" y1="140.69" x2="593.30" y2="140.69" stroke="#1a8a3a" stroke-width="1.4" />
<text x="0.00" y="0.00" transform="translate(596.30,142.69) scale(1.0,1.1)" font-size="5.7" font-weight="bold" text-anchor="start" fill="#000" stroke="#000" stroke-width="0.12"><tspan>100</tspan></text>
<line x1="578.20" y1="148.98" x2="593.30" y2="148.98" stroke="#b88ad8" stroke-width="1.4" />
<text x="0.00" y="0.00" transform="translate(596.30,150.98) scale(1.0,1.1)" font-size="5.7" font-weight="bold" text-anchor="start" fill="#000" stroke="#000" stroke-width="0.12"><tspan>500</tspan></text>
<line x1="578.20" y1="157.27" x2="593.30" y2="157.27" stroke="#d8a030" stroke-width="1.4" />
<text x="0.00" y="0.00" transform="translate(596.30,159.27) scale(1.0,1.1)" font-size="5.7" font-weight="bold" text-anchor="start" fill="#000" stroke="#000" stroke-width="0.12"><tspan>1 000</tspan></text>
<line x1="578.20" y1="165.56" x2="593.30" y2="165.56" stroke="#20c0d8" stroke-width="1.4" />
<text x="0.00" y="0.00" transform="translate(596.30,167.56) scale(1.0,1.1)" font-size="5.7" font-weight="bold" text-anchor="start" fill="#000" stroke="#000" stroke-width="0.12"><tspan>2 000</tspan></text>
<line x1="578.20" y1="173.85" x2="593.30" y2="173.85" stroke="#8a5a4a" stroke-width="1.4" />
<text x="0.00" y="0.00" transform="translate(596.30,175.85) scale(1.0,1.1)" font-size="5.7" font-weight="bold" text-anchor="start" fill="#000" stroke="#000" stroke-width="0.12"><tspan>3 600</tspan></text>
<line x1="578.20" y1="182.14" x2="593.30" y2="182.14" stroke="#f06a20" stroke-width="1.4" />
<text x="0.00" y="0.00" transform="translate(596.30,184.14) scale(1.0,1.1)" font-size="5.7" font-weight="bold" text-anchor="start" fill="#000" stroke="#000" stroke-width="0.12"><tspan>7 200</tspan></text>
<path d="M576.00,190.69 L576.90,186.70 L578.19,185.08 L579.19,196.05 L579.86,191.82 L580.95,185.50 L581.86,193.65 L582.82,193.92 L583.54,187.93 L584.23,191.23 L585.57,192.26 L586.79,189.72 L587.99,186.25 L588.82,193.29 L590.00,190.19 L590.67,188.28 L591.44,188.46 L592.69,187.45 L594.00,195.82 L594.64,189.66 L595.63,185.29 L596.57,196.15 L597.26,192.34 L597.96,192.12 L599.27,187.50 L599.88,186.03 L600.91,185.21 L601.58,191.11 L602.92,190.17 L603.84,192.86 L604.51,192.13 L605.25,192.49 L606.62,185.67 L607.66,192.46 L608.38,188.30 L609.78,197.27 L610.47,193.68 L611.83,187.91 L612.92,185.53 L613.81,193.29 L614.89,194.53 L615.56,189.27 L616.85,192.18 L617.81,189.95" stroke="#b88ad8" stroke-width="0.8" fill="none" stroke-linejoin="round" />
<path d="M576.00,192.07 L576.61,194.83 L577.48,190.33 L578.25,190.46 L579.11,186.09 L580.21,186.27 L581.44,185.31 L582.66,194.93 L583.66,193.73 L584.46,194.07 L585.40,187.84 L586.77,189.93 L587.67,195.58 L588.57,193.21 L589.30,195.37 L590.11,185.62 L591.49,187.12 L592.85,197.13 L593.93,185.15 L594.58,187.57 L595.49,192.52 L596.86,189.36 L597.58,191.91 L598.29,186.07 L599.33,193.56 L599.98,190.55 L601.15,194.40 L602.05,195.91 L602.79,193.80 L604.01,195.83 L605.00,186.22 L605.64,191.50 L606.38,192.75 L607.05,194.60 L607.82,185.16 L608.57,190.62 L609.61,189.78 L610.35,190.93 L611.71,191.59 L613.06,185.35 L614.46,195.93 L615.49,191.44 L616.52,196.19 L617.17,192.91" stroke="#1a8a3a" stroke-width="0.8" fill="none" stroke-linejoin="round" />
<path d="M576.00,188.69 L577.18,193.86 L577.86,193.60 L578.83,191.03 L579.93,185.65 L581.02,189.59 L582.32,187.84 L583.58,193.97 L584.68,195.77 L585.31,192.34 L586.40,193.34 L587.32,185.85 L588.07,192.48 L588.82,185.80 L589.70,190.78 L590.73,185.32 L591.95,189.11 L593.18,185.11 L594.54,192.26 L595.92,197.13 L597.19,186.31 L598.07,187.85 L599.29,187.36 L600.07,186.36 L600.77,196.54 L602.15,189.58 L603.34,190.75 L604.36,189.54 L605.46,187.90 L606.27,191.37 L607.03,190.40 L608.38,185.27 L609.07,194.84 L609.71,188.09 L610.99,192.44 L611.77,185.72 L612.59,188.69 L613.83,197.00 L615.06,196.09 L616.40,195.78 L617.74,196.90" stroke="#d8a030" stroke-width="0.8" fill="none" stroke-linejoin="round" />
<path d="M576.00,188.91 L576.80,192.43 L577.79,189.27 L579.06,189.91 L579.83,188.40 L580.80,192.51 L581.85,190.41 L582.60,189.95 L583.46,187.10 L584.50,187.32 L585.67,193.10 L586.38,192.69 L587.25,190.50 L588.33,194.37 L589.64,194.02 L590.41,191.67 L591.28,185.24 L592.32,190.79 L593.61,188.98 L594.88,191.32 L595.56,193.82 L596.38,191.56 L597.04,185.13 L598.38,185.52 L599.10,187.01 L599.77,195.14 L601.17,192.98 L602.09,195.93 L603.09,186.66 L604.24,189.42 L605.06,188.94 L605.97,187.24 L607.06,195.68 L608.12,185.12 L609.26,185.25 L610.25,195.65 L611.39,196.17 L612.59,188.36 L613.31,190.55 L614.45,187.85 L615.31,194.20 L616.19,192.39 L617.23,196.43 L617.85,187.29" stroke="#000" stroke-width="0.8" fill="none" stroke-linejoin="round" />
<path d="M576.00,193.23 L576.68,186.65 L577.45,191.68 L578.77,187.66 L579.53,193.44 L580.47,195.41 L581.87,196.51 L583.04,191.10 L583.69,194.94 L584.61,190.70 L585.71,196.86 L586.76,196.29 L588.13,186.04 L589.01,195.93 L590.23,196.92 L590.98,191.53 L592.32,191.64 L593.46,196.99 L594.20,185.69 L595.48,192.15 L596.24,195.24 L597.07,186.60 L597.91,185.44 L598.83,194.59 L599.79,196.86 L600.43,187.13 L601.14,192.07 L601.90,193.21 L602.92,192.14 L604.20,194.72 L605.53,186.87 L606.44,196.81 L607.36,188.51 L608.34,187.22 L609.62,192.82 L610.30,196.86 L611.31,188.12 L612.40,196.68 L613.28,185.17 L614.04,185.72 L615.06,188.83 L616.34,187.54 L616.95,190.72 L617.65,188.82" stroke="#8a5a4a" stroke-width="0.8" fill="none" stroke-linejoin="round" />
<path d="M576.00,187.19 L577.11,196.52 L578.01,192.85 L578.86,196.26 L579.91,185.36 L581.10,187.58 L581.74,185.24 L583.01,193.73 L583.90,191.86 L585.06,185.93 L586.22,193.72 L587.58,185.73 L588.64,191.25 L589.91,189.48 L591.04,196.03 L591.92,191.34 L593.24,185.42 L594.62,188.85 L595.58,188.54 L596.82,191.55 L598.02,186.28 L599.32,195.10 L600.47,187.74 L601.27,190.56 L601.93,196.73 L602.85,196.73 L603.60,192.97 L604.84,192.93 L605.78,185.24 L606.73,189.80 L608.08,196.97 L609.45,197.06 L610.18,185.36 L611.02,185.10 L611.71,192.10 L612.47,192.51 L613.38,188.37 L614.75,187.29 L616.06,191.48 L617.19,186.77" stroke="#20c0d8" stroke-width="0.8" fill="none" stroke-linejoin="round" />
<path d="M576.00,192.01 L576.76,188.26 L577.88,188.27 L579.08,189.80 L579.93,190.13 L581.15,188.17 L582.22,189.71 L583.21,184.80 L584.13,191.00 L585.31,184.67 L586.29,189.29 L587.32,185.35 L588.44,190.28 L589.47,192.46 L590.53,184.11 L591.36,190.32 L592.02,192.69 L593.18,190.88 L593.92,184.06 L595.21,188.60 L596.17,188.66 L597.38,187.35 L598.60,185.46 L599.98,190.26 L600.84,188.29 L602.14,186.93 L603.30,192.18 L604.67,186.30 L605.91,189.48 L607.15,184.63 L608.09,188.06 L609.34,188.07 L609.97,185.88 L611.24,191.95 L612.29,184.72 L613.51,191.80 L614.34,188.34 L615.18,184.48 L616.36,185.43 L617.03,192.18 L617.71,190.84" stroke="#f06a20" stroke-width="1.1" fill="none" stroke-linejoin="round" />
<path d="M617.50,197.00 L617.75,195.96 L618.05,194.70 L618.41,193.22 L618.82,191.50 L619.28,189.53 L619.80,187.30 L620.38,184.79 L621.00,182.00 L621.70,178.75 L622.49,174.98 L623.34,170.85 L624.24,166.50 L625.17,162.09 L626.10,157.77 L627.02,153.69 L627.90,150.00 L628.72,146.62 L629.50,143.37 L630.26,140.25 L631.03,137.28 L631.82,134.46 L632.69,131.80 L633.64,129.31 L634.70,127.00 L635.90,124.88 L637.20,122.95 L638.59,121.19 L640.05,119.59 L641.54,118.14 L643.05,116.82 L644.54,115.61 L646.00,114.50 L647.41,113.55 L648.78,112.79 L650.15,112.18 L651.52,111.69 L652.94,111.26 L654.40,110.87 L655.95,110.46 L657.60,110.00 L659.47,109.49 L661.60,108.97 L663.88,108.46 L666.18,107.97 L668.38,107.51 L670.38,107.11 L672.06,106.76 L673.30,106.50" stroke="#000" stroke-width="1.4" fill="none" stroke-linejoin="round" />
<path d="M617.50,197.00 L617.75,195.96 L618.05,194.70 L618.41,193.22 L618.82,191.50 L619.28,189.53 L619.80,187.30 L620.38,184.79 L621.00,182.00 L621.70,178.75 L622.49,174.98 L623.34,170.85 L624.24,166.50 L625.17,162.09 L626.10,157.77 L627.02,153.69 L627.90,150.00 L628.72,146.62 L629.50,143.37 L630.26,140.25 L631.03,137.28 L631.82,134.46 L632.69,131.80 L633.64,129.31 L634.70,127.00 L635.90,124.88 L637.20,122.95 L638.59,121.19 L640.05,119.59 L641.54,118.14 L643.05,116.82 L644.54,115.61 L646.00,114.50 L647.41,113.55 L648.78,112.79 L650.15,112.18 L651.52,111.69 L652.94,111.26 L654.40,110.87 L655.95,110.46 L657.60,110.00 L659.47,109.49 L661.60,108.97 L663.88,108.46 L666.18,107.97 L668.38,107.51 L670.38,107.11 L672.06,106.76 L673.30,106.50" stroke="#1a8a3a" stroke-width="1.4" fill="none" stroke-linejoin="round" />
<path d="M617.50,197.00 L617.75,195.96 L618.05,194.70 L618.41,193.22 L618.82,191.50 L619.28,189.53 L619.80,187.30 L620.38,184.79 L621.00,182.00 L621.70,178.75 L622.49,174.98 L623.34,170.85 L624.24,166.50 L625.17,162.09 L626.10,157.77 L627.02,153.69 L627.90,150.00 L628.72,146.62 L629.50,143.37 L630.26,140.25 L631.03,137.28 L631.82,134.46 L632.69,131.80 L633.64,129.31 L634.70,127.00 L635.90,124.88 L637.20,122.95 L638.59,121.19 L640.05,119.59 L641.54,118.14 L643.05,116.82 L644.54,115.61 L646.00,114.50 L647.41,113.55 L648.78,112.79 L650.15,112.18 L651.52,111.69 L652.94,111.26 L654.40,110.87 L655.95,110.46 L657.60,110.00 L659.47,109.49 L661.60,108.97 L663.88,108.46 L666.18,107.97 L668.38,107.51 L670.38,107.11 L672.06,106.76 L673.30,106.50" stroke="#b88ad8" stroke-width="1.4" fill="none" stroke-linejoin="round" />
<path d="M617.50,197.00 L617.75,195.96 L618.05,194.70 L618.41,193.22 L618.82,191.50 L619.28,189.53 L619.80,187.30 L620.38,184.79 L621.00,182.00 L621.70,178.75 L622.49,174.98 L623.34,170.85 L624.24,166.50 L625.17,162.09 L626.10,157.77 L627.02,153.69 L627.90,150.00 L628.72,146.62 L629.50,143.37 L630.26,140.25 L631.03,137.28 L631.82,134.46 L632.69,131.80 L633.64,129.31 L634.70,127.00 L635.90,124.88 L637.20,122.95 L638.59,121.19 L640.05,119.59 L641.54,118.14 L643.05,116.82 L644.54,115.61 L646.00,114.50 L647.41,113.55 L648.78,112.79 L650.15,112.18 L651.52,111.69 L652.94,111.26 L654.40,110.87 L655.95,110.46 L657.60,110.00 L659.47,109.49 L661.60,108.97 L663.88,108.46 L666.18,107.97 L668.38,107.51 L670.38,107.11 L672.06,106.76 L673.30,106.50" stroke="#d8a030" stroke-width="1.4" fill="none" stroke-linejoin="round" />
<path d="M617.50,197.00 L617.75,195.96 L618.05,194.70 L618.41,193.22 L618.82,191.50 L619.28,189.53 L619.80,187.30 L620.38,184.79 L621.00,182.00 L621.70,178.75 L622.49,174.98 L623.34,170.85 L624.24,166.50 L625.17,162.09 L626.10,157.77 L627.02,153.69 L627.90,150.00 L628.72,146.62 L629.50,143.37 L630.26,140.25 L631.03,137.28 L631.82,134.46 L632.69,131.80 L633.64,129.31 L634.70,127.00 L635.90,124.88 L637.20,122.95 L638.59,121.19 L640.05,119.59 L641.54,118.14 L643.05,116.82 L644.54,115.61 L646.00,114.50 L647.41,113.55 L648.78,112.79 L650.15,112.18 L651.52,111.69 L652.94,111.26 L654.40,110.87 L655.95,110.46 L657.60,110.00 L659.47,109.49 L661.60,108.97 L663.88,108.46 L666.18,107.97 L668.38,107.51 L670.38,107.11 L672.06,106.76 L673.30,106.50" stroke="#20c0d8" stroke-width="1.4" fill="none" stroke-linejoin="round" />
<path d="M617.50,197.00 L617.75,195.96 L618.05,194.70 L618.41,193.22 L618.82,191.50 L619.28,189.53 L619.80,187.30 L620.38,184.79 L621.00,182.00 L621.70,178.75 L622.49,174.98 L623.34,170.85 L624.24,166.50 L625.17,162.09 L626.10,157.77 L627.02,153.69 L627.90,150.00 L628.72,146.62 L629.50,143.37 L630.26,140.25 L631.03,137.28 L631.82,134.46 L632.69,131.80 L633.64,129.31 L634.70,127.00 L635.90,124.88 L637.20,122.95 L638.59,121.19 L640.05,119.59 L641.54,118.14 L643.05,116.82 L644.54,115.61 L646.00,114.50 L647.41,113.55 L648.78,112.79 L650.15,112.18 L651.52,111.69 L652.94,111.26 L654.40,110.87 L655.95,110.46 L657.60,110.00 L659.47,109.49 L661.60,108.97 L663.88,108.46 L666.18,107.97 L668.38,107.51 L670.38,107.11 L672.06,106.76 L673.30,106.50" stroke="#8a5a4a" stroke-width="1.4" fill="none" stroke-linejoin="round" />
<path d="M617.50,197.00 L617.75,195.96 L618.05,194.70 L618.41,193.22 L618.82,191.50 L619.28,189.53 L619.80,187.30 L620.38,184.79 L621.00,182.00 L621.70,178.75 L622.49,174.98 L623.34,170.85 L624.24,166.50 L625.17,162.09 L626.10,157.77 L627.02,153.69 L627.90,150.00 L628.72,146.62 L629.50,143.37 L630.26,140.25 L631.03,137.28 L631.82,134.46 L632.69,131.80 L633.64,129.31 L634.70,127.00 L635.90,124.88 L637.20,122.95 L638.59,121.19 L640.05,119.59 L641.54,118.14 L643.05,116.82 L644.54,115.61 L646.00,114.50 L647.41,113.55 L648.78,112.79 L650.15,112.18 L651.52,111.69 L652.94,111.26 L654.40,110.87 L655.95,110.46 L657.60,110.00 L659.47,109.49 L661.60,108.97 L663.88,108.46 L666.18,107.97 L668.38,107.51 L670.38,107.11 L672.06,106.76 L673.30,106.50" stroke="#f06a20" stroke-width="1.7" fill="none" stroke-linejoin="round" />
<text x="0.00" y="0.00" transform="translate(666.60,191.40) scale(1.0,1.1)" font-size="8.2" font-weight="bold" text-anchor="end" fill="#000" stroke="#000" stroke-width="0.22"><tspan font-style="italic">V</tspan><tspan font-size="4.67" dy="1.07">DS</tspan><tspan dy="-1.07">=1.0 V</tspan></text>
<text x="0.00" y="0.00" transform="translate(653.80,153.90) scale(1.0,1.1)" font-size="8.4" font-weight="bold" text-anchor="middle" fill="#e01028" stroke="#e01028" stroke-width="0.22"><tspan>Δ</tspan><tspan font-style="italic">V</tspan><tspan font-size="4.79" dy="1.09">th</tspan></text>
<text x="0.00" y="0.00" transform="translate(650.80,167.40) scale(1.0,1.1)" font-size="8.2" font-weight="bold" text-anchor="middle" fill="#e01028" stroke="#e01028" stroke-width="0.22"><tspan>&lt; 0.02 V</tspan></text>
<line x1="628.00" y1="142.20" x2="642.00" y2="142.20" stroke="#000" stroke-width="0.8" />
<polygon points="645.00,142.20 641.80,143.80 641.80,140.60" fill="#000" />
<text x="3.90" y="245.70" font-size="12.6" font-weight="bold" text-anchor="start" fill="#000" stroke="#000" stroke-width="0.3"><tspan>(c)</tspan></text>
<defs><linearGradient id="bigArrow" x1="0" x2="0" y1="0" y2="1"><stop offset="0" stop-color="#e0783a"/><stop offset="0.5" stop-color="#fdf4ee"/><stop offset="1" stop-color="#b4dcb4"/></linearGradient><linearGradient id="blueTop" x1="0" x2="0" y1="0" y2="1"><stop offset="0" stop-color="#6ab4ec"/><stop offset="1" stop-color="#3a94dc"/></linearGradient><linearGradient id="purpTop" x1="0" x2="0" y1="0" y2="1"><stop offset="0" stop-color="#5a3a8a"/><stop offset="1" stop-color="#8a6ab8"/></linearGradient></defs>
<polygon points="1.60,305.40 13.60,292.30 25.60,305.40 20.30,305.40 20.30,350.30 7.20,350.30 7.20,305.40" fill="url(#bigArrow)" />
<rect x="28.1" y="299.7" width="150" height="12.4" fill="#b8e0bc"/>
<polygon points="28.10,299.70 178.10,299.70 158.30,306.40 47.70,306.40" fill="#a6d2aa" />
<rect x="47.7" y="306.4" width="110.6" height="5.7" fill="#c8ecd0"/>
<polygon points="78.20,299.70 128.00,299.70 122.00,306.40 84.00,306.40" fill="#86a48c" />
<rect x="78.2" y="287.3" width="49.8" height="12.4" fill="#2f90d8"/>
<text x="0.00" y="0.00" transform="translate(103.10,295.50) scale(1.0,1.1)" font-size="5.6" font-weight="bold" text-anchor="middle" fill="#fff" stroke="#fff" stroke-width="0.12"><tspan>Gate</tspan></text>
<text x="0.00" y="0.00" transform="translate(103.10,308.60) scale(1.0,1.1)" font-size="5.7" font-weight="bold" text-anchor="middle" fill="#000" stroke="#000" stroke-width="0.12"><tspan>50-nm HfO</tspan><tspan font-size="3.25" dy="0.74">2</tspan></text>
<rect x="28.1" y="312.1" width="150" height="6.4" fill="#f08434"/>
<polygon points="28.10,312.10 47.70,314.00 47.70,318.50 28.10,318.50" fill="#d87024" />
<polygon points="178.10,312.10 158.30,314.00 158.30,318.50 178.10,318.50" fill="#d87024" />
<polygon points="47.70,312.10 158.30,312.10 158.30,314.00 47.70,314.00" fill="#dc7428" />
<text x="0.00" y="0.00" transform="translate(103.10,317.60) scale(1.0,1.1)" font-size="5.7" font-weight="bold" text-anchor="middle" fill="#fff" stroke="#fff" stroke-width="0.12"><tspan>4-nm Al</tspan><tspan font-size="3.25" dy="0.74">2</tspan><tspan dy="-0.74">O</tspan><tspan font-size="3.25" dy="0.74">3</tspan></text>
<polygon points="96.70,325.60 102.70,320.60 108.70,325.60 105.20,325.60 105.20,329.80 100.20,329.80 100.20,325.60" fill="#f01010" />
<rect x="28.1" y="330.5" width="150" height="12.8" fill="#b8e0bc"/>
<rect x="47.7" y="330.5" width="110.6" height="7.1" fill="#c8ecd0"/>
<polygon points="47.70,337.60 158.30,337.60 178.10,343.30 28.10,343.30" fill="#a6d2aa" />
<text x="0.00" y="0.00" transform="translate(103.10,339.60) scale(1.0,1.1)" font-size="5.7" font-weight="bold" text-anchor="middle" fill="#000" stroke="#000" stroke-width="0.12"><tspan>50-nm HfO</tspan><tspan font-size="3.25" dy="0.74">2</tspan></text>
<rect x="28.7" y="399.8" width="149" height="12.2" fill="#cbbd9e"/>
<rect x="28.7" y="388.3" width="149" height="11.5" fill="#a8a8a8"/>
<polygon points="43.00,359.70 163.00,359.70 177.70,375.20 28.70,375.20" fill="url(#blueTop)" />
<rect x="28.7" y="375.2" width="149" height="13.1" fill="#2a90e0"/>
<rect x="65.6" y="363" width="73.8" height="12.2" fill="#e8d840"/>
<rect x="77.9" y="375.2" width="50" height="13.1" fill="#e8d840"/>
<polygon points="71.40,347.40 98.40,347.40 98.40,355.60 65.60,355.60" fill="url(#purpTop)" />
<polygon points="108.20,347.40 133.60,347.40 139.40,355.60 108.20,355.60" fill="url(#purpTop)" />
<polygon points="65.60,355.60 98.40,355.60 98.40,356.40 108.20,356.40 108.20,355.60 139.40,355.60 139.40,363.00 115.60,363.00 115.60,375.20 90.20,375.20 90.20,363.00 65.60,363.00" fill="#5c3a90" />
<rect x="98.2" y="356.4" width="10.2" height="10.6" fill="#585858"/>
<text x="0.00" y="0.00" transform="translate(80.40,361.60) scale(1.0,1.1)" font-size="5.4" font-weight="bold" text-anchor="middle" fill="#fff" stroke="#fff" stroke-width="0.12"><tspan>3-nm</tspan></text>
<text x="0.00" y="0.00" transform="translate(123.30,361.60) scale(1.0,1.1)" font-size="5.5" font-weight="bold" text-anchor="middle" fill="#fff" stroke="#fff" stroke-width="0.12"><tspan>Boost-layer</tspan></text>
<text x="0.00" y="0.00" transform="translate(102.50,383.90) scale(1.0,1.1)" font-size="5.6" font-weight="bold" text-anchor="middle" fill="#000" stroke="#000" stroke-width="0.12"><tspan>10-nm Base-layer</tspan></text>
<text x="0.00" y="0.00" transform="translate(52.50,383.90) scale(1.0,1.1)" font-size="5.6" font-weight="bold" text-anchor="middle" fill="#fff" stroke="#fff" stroke-width="0.12"><tspan>Source</tspan></text>
<text x="0.00" y="0.00" transform="translate(152.50,383.90) scale(1.0,1.1)" font-size="5.6" font-weight="bold" text-anchor="middle" fill="#fff" stroke="#fff" stroke-width="0.12"><tspan>Drain</tspan></text>
<text x="0.00" y="0.00" transform="translate(104.10,396.50) scale(1.0,1.1)" font-size="5.6" font-weight="bold" text-anchor="middle" fill="#fff" stroke="#fff" stroke-width="0.12"><tspan>SiO</tspan><tspan font-size="3.19" dy="0.73">2</tspan></text>
<text x="0.00" y="0.00" transform="translate(104.10,408.00) scale(1.0,1.1)" font-size="5.6" font-weight="bold" text-anchor="middle" fill="#fff" stroke="#fff" stroke-width="0.12"><tspan>p</tspan><tspan font-size="3.19" dy="-2.35">++</tspan><tspan dy="2.35">-Si substrate</tspan></text>
<rect x="225.9" y="287.4" width="118.29999999999998" height="124.60000000000002" fill="none" stroke="#646464" stroke-width="0.9"/>
<text x="0.00" y="0.00" transform="translate(222.30,301.00) scale(1.0,1.1)" font-size="8.4" font-weight="bold" text-anchor="end" fill="#000" stroke="#000" stroke-width="0.22"><tspan>10</tspan><tspan font-size="5.04" dy="-2.69">−5</tspan></text>
<line x1="225.90" y1="297.00" x2="227.70" y2="297.00" stroke="#646464" stroke-width="0.6" />
<text x="0.00" y="0.00" transform="translate(222.30,313.42) scale(1.0,1.1)" font-size="8.4" font-weight="bold" text-anchor="end" fill="#000" stroke="#000" stroke-width="0.22"><tspan>10</tspan><tspan font-size="5.04" dy="-2.69">−6</tspan></text>
<line x1="225.90" y1="309.42" x2="227.70" y2="309.42" stroke="#646464" stroke-width="0.6" />
<text x="0.00" y="0.00" transform="translate(222.30,325.84) scale(1.0,1.1)" font-size="8.4" font-weight="bold" text-anchor="end" fill="#000" stroke="#000" stroke-width="0.22"><tspan>10</tspan><tspan font-size="5.04" dy="-2.69">−7</tspan></text>
<line x1="225.90" y1="321.84" x2="227.70" y2="321.84" stroke="#646464" stroke-width="0.6" />
<text x="0.00" y="0.00" transform="translate(222.30,338.26) scale(1.0,1.1)" font-size="8.4" font-weight="bold" text-anchor="end" fill="#000" stroke="#000" stroke-width="0.22"><tspan>10</tspan><tspan font-size="5.04" dy="-2.69">−8</tspan></text>
<line x1="225.90" y1="334.26" x2="227.70" y2="334.26" stroke="#646464" stroke-width="0.6" />
<text x="0.00" y="0.00" transform="translate(222.30,350.68) scale(1.0,1.1)" font-size="8.4" font-weight="bold" text-anchor="end" fill="#000" stroke="#000" stroke-width="0.22"><tspan>10</tspan><tspan font-size="5.04" dy="-2.69">−9</tspan></text>
<line x1="225.90" y1="346.68" x2="227.70" y2="346.68" stroke="#646464" stroke-width="0.6" />
<text x="0.00" y="0.00" transform="translate(222.30,363.10) scale(1.0,1.1)" font-size="8.4" font-weight="bold" text-anchor="end" fill="#000" stroke="#000" stroke-width="0.22"><tspan>10</tspan><tspan font-size="5.04" dy="-2.69">−10</tspan></text>
<line x1="225.90" y1="359.10" x2="227.70" y2="359.10" stroke="#646464" stroke-width="0.6" />
<text x="0.00" y="0.00" transform="translate(222.30,375.52) scale(1.0,1.1)" font-size="8.4" font-weight="bold" text-anchor="end" fill="#000" stroke="#000" stroke-width="0.22"><tspan>10</tspan><tspan font-size="5.04" dy="-2.69">−11</tspan></text>
<line x1="225.90" y1="371.52" x2="227.70" y2="371.52" stroke="#646464" stroke-width="0.6" />
<text x="0.00" y="0.00" transform="translate(222.30,387.94) scale(1.0,1.1)" font-size="8.4" font-weight="bold" text-anchor="end" fill="#000" stroke="#000" stroke-width="0.22"><tspan>10</tspan><tspan font-size="5.04" dy="-2.69">−12</tspan></text>
<line x1="225.90" y1="383.94" x2="227.70" y2="383.94" stroke="#646464" stroke-width="0.6" />
<text x="0.00" y="0.00" transform="translate(222.30,400.36) scale(1.0,1.1)" font-size="8.4" font-weight="bold" text-anchor="end" fill="#000" stroke="#000" stroke-width="0.22"><tspan>10</tspan><tspan font-size="5.04" dy="-2.69">−13</tspan></text>
<line x1="225.90" y1="396.36" x2="227.70" y2="396.36" stroke="#646464" stroke-width="0.6" />
<text x="0.00" y="0.00" transform="translate(222.30,412.78) scale(1.0,1.1)" font-size="8.4" font-weight="bold" text-anchor="end" fill="#000" stroke="#000" stroke-width="0.22"><tspan>10</tspan><tspan font-size="5.04" dy="-2.69">−14</tspan></text>
<line x1="225.90" y1="408.78" x2="227.70" y2="408.78" stroke="#646464" stroke-width="0.6" />
<text x="0.00" y="0.00" transform="translate(225.95,423.00) scale(1.0,1.1)" font-size="8.4" font-weight="bold" text-anchor="middle" fill="#000" stroke="#000" stroke-width="0.22"><tspan>−4</tspan></text>
<line x1="225.95" y1="412.00" x2="225.95" y2="410.20" stroke="#646464" stroke-width="0.6" />
<text x="0.00" y="0.00" transform="translate(255.55,423.00) scale(1.0,1.1)" font-size="8.4" font-weight="bold" text-anchor="middle" fill="#000" stroke="#000" stroke-width="0.22"><tspan>−2</tspan></text>
<line x1="255.55" y1="412.00" x2="255.55" y2="410.20" stroke="#646464" stroke-width="0.6" />
<text x="0.00" y="0.00" transform="translate(285.15,423.00) scale(1.0,1.1)" font-size="8.4" font-weight="bold" text-anchor="middle" fill="#000" stroke="#000" stroke-width="0.22"><tspan>0</tspan></text>
<line x1="285.15" y1="412.00" x2="285.15" y2="410.20" stroke="#646464" stroke-width="0.6" />
<text x="0.00" y="0.00" transform="translate(314.75,423.00) scale(1.0,1.1)" font-size="8.4" font-weight="bold" text-anchor="middle" fill="#000" stroke="#000" stroke-width="0.22"><tspan>2</tspan></text>
<line x1="314.75" y1="412.00" x2="314.75" y2="410.20" stroke="#646464" stroke-width="0.6" />
<text x="0.00" y="0.00" transform="translate(344.35,423.00) scale(1.0,1.1)" font-size="8.4" font-weight="bold" text-anchor="middle" fill="#000" stroke="#000" stroke-width="0.22"><tspan>4</tspan></text>
<line x1="344.35" y1="412.00" x2="344.35" y2="410.20" stroke="#646464" stroke-width="0.6" />
<text x="0.00" y="0.00" transform="translate(346.80,415.80) scale(1.0,1.1)" font-size="8.4" font-weight="bold" text-anchor="start" fill="#000" stroke="#000" stroke-width="0.22"><tspan>0</tspan></text>
<line x1="344.20" y1="412.00" x2="342.40" y2="412.00" stroke="#646464" stroke-width="0.6" />
<text x="0.00" y="0.00" transform="translate(346.80,394.80) scale(1.0,1.1)" font-size="8.4" font-weight="bold" text-anchor="start" fill="#000" stroke="#000" stroke-width="0.22"><tspan>20</tspan></text>
<line x1="344.20" y1="391.00" x2="342.40" y2="391.00" stroke="#646464" stroke-width="0.6" />
<text x="0.00" y="0.00" transform="translate(346.80,373.80) scale(1.0,1.1)" font-size="8.4" font-weight="bold" text-anchor="start" fill="#000" stroke="#000" stroke-width="0.22"><tspan>40</tspan></text>
<line x1="344.20" y1="370.00" x2="342.40" y2="370.00" stroke="#646464" stroke-width="0.6" />
<text x="0.00" y="0.00" transform="translate(346.80,352.80) scale(1.0,1.1)" font-size="8.4" font-weight="bold" text-anchor="start" fill="#000" stroke="#000" stroke-width="0.22"><tspan>60</tspan></text>
<line x1="344.20" y1="349.00" x2="342.40" y2="349.00" stroke="#646464" stroke-width="0.6" />
<text x="0.00" y="0.00" transform="translate(346.80,331.80) scale(1.0,1.1)" font-size="8.4" font-weight="bold" text-anchor="start" fill="#000" stroke="#000" stroke-width="0.22"><tspan>80</tspan></text>
<line x1="344.20" y1="328.00" x2="342.40" y2="328.00" stroke="#646464" stroke-width="0.6" />
<text x="0.00" y="0.00" transform="translate(346.80,310.80) scale(1.0,1.1)" font-size="8.4" font-weight="bold" text-anchor="start" fill="#000" stroke="#000" stroke-width="0.22"><tspan>100</tspan></text>
<line x1="344.20" y1="307.00" x2="342.40" y2="307.00" stroke="#646464" stroke-width="0.6" />
<text x="0.00" y="0.00" transform="translate(346.80,289.80) scale(1.0,1.1)" font-size="8.4" font-weight="bold" text-anchor="start" fill="#000" stroke="#000" stroke-width="0.22"><tspan>120</tspan></text>
<line x1="344.20" y1="286.00" x2="342.40" y2="286.00" stroke="#646464" stroke-width="0.6" />
<text x="0.00" y="0.00" transform="translate(285.00,437.20) scale(1.0,1.1)" font-size="8.6" font-weight="bold" text-anchor="middle" fill="#000" stroke="#000" stroke-width="0.22"><tspan font-style="italic">V</tspan><tspan font-size="4.90" dy="1.12">GS</tspan><tspan dy="-1.12">/V</tspan></text>
<text x="0.00" y="0.00" transform="translate(196.60,352.00) rotate(-90) scale(1.0,1.1)" font-size="8.1" font-weight="bold" text-anchor="middle" fill="#000" stroke="#000" stroke-width="0.22"><tspan font-style="italic">I</tspan><tspan font-size="4.62" dy="1.05">DS</tspan><tspan dy="-1.05">/W/(A·μm</tspan><tspan font-size="4.62" dy="-3.40">−1</tspan><tspan dy="3.40">)</tspan></text>
<text x="0.00" y="0.00" transform="translate(366.20,348.70) rotate(90) scale(1.0,1.1)" font-size="8.4" font-weight="bold" text-anchor="middle" fill="#000" stroke="#000" stroke-width="0.22"><tspan font-style="italic">μ</tspan><tspan font-size="4.79" dy="1.09">FE</tspan><tspan dy="-1.09"> (cm</tspan><tspan font-size="4.79" dy="-3.53">2</tspan><tspan dy="3.53">/Vs)</tspan></text>
<text x="0.00" y="0.00" transform="translate(324.30,406.00) scale(1.0,1.1)" font-size="8.6" font-weight="bold" text-anchor="start" fill="#000" stroke="#000" stroke-width="0.22"><tspan>(d)</tspan></text>
<line x1="230.60" y1="297.30" x2="245.80" y2="297.30" stroke="#1a2ad0" stroke-width="0.9" />
<circle cx="238.2" cy="297.3" r="1.4" fill="#1a2ad0"/>
<text x="0.00" y="0.00" transform="translate(247.60,300.40) scale(1.0,1.1)" font-size="8.6" font-weight="bold" text-anchor="start" fill="#000" stroke="#000" stroke-width="0.22"><tspan font-style="italic">V</tspan><tspan font-size="4.90" dy="1.12">DS</tspan><tspan dy="-1.12">=0.1 V</tspan></text>
<line x1="230.60" y1="306.50" x2="245.80" y2="306.50" stroke="#e01020" stroke-width="0.9" />
<circle cx="238.2" cy="306.5" r="1.4" fill="#e01020"/>
<text x="0.00" y="0.00" transform="translate(247.60,309.60) scale(1.0,1.1)" font-size="8.6" font-weight="bold" text-anchor="start" fill="#000" stroke="#000" stroke-width="0.22"><tspan font-style="italic">V</tspan><tspan font-size="4.90" dy="1.12">DS</tspan><tspan dy="-1.12">=2.1 V</tspan></text>
<line x1="230.60" y1="316.00" x2="245.80" y2="316.00" stroke="#000" stroke-width="0.7" stroke-dasharray="2.5,2"/>
<rect x="237" y="315" width="2.2" height="2.2" fill="#000"/>
<text x="0.00" y="0.00" transform="translate(247.60,319.00) scale(1.0,1.1)" font-size="8.6" font-weight="bold" text-anchor="start" fill="#000" stroke="#000" stroke-width="0.22"><tspan font-style="italic">μ</tspan><tspan font-size="4.90" dy="1.12">FE</tspan></text>
<path d="M226.50,403.97 L229.90,403.45 L233.30,404.95 L236.70,403.22 L240.10,404.61 L243.50,404.10 L246.90,403.17 L250.30,404.52 L253.70,403.11 L257.10,404.30 L260.50,403.21 L263.90,403.27 L267.30,404.27 L270.70,405.48 L274.10,403.37 L277.50,403.67 L278.60,403.00 L278.80,401.64 L279.07,399.81 L279.39,397.62 L279.75,395.19 L280.13,392.61 L280.50,390.00 L280.88,387.28 L281.27,384.33 L281.68,381.25 L282.11,378.11 L282.55,375.00 L283.00,372.00 L283.47,369.06 L283.96,366.11 L284.47,363.19 L284.98,360.33 L285.49,357.59 L286.00,355.00 L286.49,352.54 L286.98,350.19 L287.46,347.94 L287.96,345.81 L288.47,343.83 L289.00,342.00 L289.57,340.34 L290.16,338.85 L290.77,337.50 L291.39,336.26 L292.00,335.10 L292.60,334.00 L293.16,332.98 L293.67,332.06 L294.19,331.22 L294.73,330.45 L295.32,329.72 L296.00,329.00 L296.77,328.31 L297.61,327.67 L298.50,327.07 L299.44,326.50 L300.41,325.94 L301.40,325.40 L302.42,324.87 L303.48,324.36 L304.57,323.87 L305.70,323.40 L306.84,322.94 L308.00,322.50 L309.11,322.10 L310.16,321.73 L311.24,321.39 L312.41,321.03 L313.78,320.65 L315.40,320.20 L317.34,319.69 L319.54,319.13 L321.92,318.54 L324.41,317.93 L326.93,317.31 L329.40,316.70 L332.03,316.05 L334.91,315.34 L337.82,314.63 L340.54,313.97 L342.84,313.40 L344.50,313.00" stroke="#1a2ad0" stroke-width="0.9" fill="none" stroke-linejoin="round" />
<path d="M226.50,403.58 L229.90,404.54 L233.30,403.43 L236.70,402.89 L240.10,404.63 L243.50,401.84 L246.90,404.28 L250.30,402.57 L253.70,402.13 L257.10,402.05 L260.50,402.63 L263.90,404.15 L267.30,402.24 L270.70,403.44 L274.10,403.62 L277.50,402.82 L278.60,402.00 L278.80,400.64 L279.07,398.81 L279.39,396.62 L279.75,394.19 L280.13,391.61 L280.50,389.00 L280.88,386.28 L281.27,383.33 L281.68,380.25 L282.11,377.11 L282.55,374.00 L283.00,371.00 L283.47,368.06 L283.96,365.11 L284.47,362.19 L284.98,359.33 L285.49,356.59 L286.00,354.00 L286.49,351.54 L286.98,349.19 L287.46,346.94 L287.96,344.81 L288.47,342.83 L289.00,341.00 L289.57,339.36 L290.16,337.91 L290.77,336.59 L291.39,335.37 L292.00,334.19 L292.60,333.00 L293.16,331.81 L293.67,330.65 L294.19,329.54 L294.73,328.47 L295.32,327.46 L296.00,326.50 L296.77,325.62 L297.61,324.83 L298.50,324.08 L299.44,323.36 L300.41,322.64 L301.40,321.90 L302.42,321.13 L303.48,320.35 L304.57,319.57 L305.70,318.80 L306.84,318.04 L308.00,317.30 L309.11,316.62 L310.16,316.00 L311.24,315.40 L312.41,314.76 L313.78,314.05 L315.40,313.20 L317.34,312.20 L319.54,311.09 L321.92,309.89 L324.41,308.66 L326.93,307.41 L329.40,306.20 L332.03,304.93 L334.91,303.55 L337.82,302.16 L340.54,300.87 L342.84,299.79 L344.50,299.00" stroke="#e01020" stroke-width="0.9" fill="none" stroke-linejoin="round" />
<circle cx="226.5" cy="404.0" r="1.3" fill="#1a2ad0"/>
<circle cx="229.9" cy="403.5" r="1.3" fill="#1a2ad0"/>
<circle cx="233.3" cy="405.0" r="1.3" fill="#1a2ad0"/>
<circle cx="236.7" cy="403.2" r="1.3" fill="#1a2ad0"/>
<circle cx="240.1" cy="404.6" r="1.3" fill="#1a2ad0"/>
<circle cx="243.5" cy="404.1" r="1.3" fill="#1a2ad0"/>
<circle cx="246.9" cy="403.2" r="1.3" fill="#1a2ad0"/>
<circle cx="250.3" cy="404.5" r="1.3" fill="#1a2ad0"/>
<circle cx="253.7" cy="403.1" r="1.3" fill="#1a2ad0"/>
<circle cx="257.1" cy="404.3" r="1.3" fill="#1a2ad0"/>
<circle cx="260.5" cy="403.2" r="1.3" fill="#1a2ad0"/>
<circle cx="263.9" cy="403.3" r="1.3" fill="#1a2ad0"/>
<circle cx="267.3" cy="404.3" r="1.3" fill="#1a2ad0"/>
<circle cx="270.7" cy="405.5" r="1.3" fill="#1a2ad0"/>
<circle cx="274.1" cy="403.4" r="1.3" fill="#1a2ad0"/>
<circle cx="277.5" cy="403.7" r="1.3" fill="#1a2ad0"/>
<circle cx="226.5" cy="403.6" r="1.55" fill="#e01020"/>
<circle cx="229.9" cy="404.5" r="1.55" fill="#e01020"/>
<circle cx="233.3" cy="403.4" r="1.55" fill="#e01020"/>
<circle cx="236.7" cy="402.9" r="1.55" fill="#e01020"/>
<circle cx="240.1" cy="404.6" r="1.55" fill="#e01020"/>
<circle cx="243.5" cy="401.8" r="1.55" fill="#e01020"/>
<circle cx="246.9" cy="404.3" r="1.55" fill="#e01020"/>
<circle cx="250.3" cy="402.6" r="1.55" fill="#e01020"/>
<circle cx="253.7" cy="402.1" r="1.55" fill="#e01020"/>
<circle cx="257.1" cy="402.1" r="1.55" fill="#e01020"/>
<circle cx="260.5" cy="402.6" r="1.55" fill="#e01020"/>
<circle cx="263.9" cy="404.1" r="1.55" fill="#e01020"/>
<circle cx="267.3" cy="402.2" r="1.55" fill="#e01020"/>
<circle cx="270.7" cy="403.4" r="1.55" fill="#e01020"/>
<circle cx="274.1" cy="403.6" r="1.55" fill="#e01020"/>
<circle cx="277.5" cy="402.8" r="1.55" fill="#e01020"/>
<circle cx="278.6" cy="403.0" r="1.3" fill="#1a2ad0"/>
<circle cx="279.1" cy="399.1" r="1.3" fill="#1a2ad0"/>
<circle cx="279.5" cy="394.7" r="1.3" fill="#1a2ad0"/>
<circle cx="280.2" cy="392.5" r="1.3" fill="#1a2ad0"/>
<circle cx="280.4" cy="390.1" r="1.3" fill="#1a2ad0"/>
<circle cx="280.8" cy="387.0" r="1.3" fill="#1a2ad0"/>
<circle cx="281.4" cy="384.7" r="1.3" fill="#1a2ad0"/>
<circle cx="281.5" cy="381.4" r="1.3" fill="#1a2ad0"/>
<circle cx="282.1" cy="378.7" r="1.3" fill="#1a2ad0"/>
<circle cx="282.7" cy="374.7" r="1.3" fill="#1a2ad0"/>
<circle cx="283.3" cy="371.4" r="1.3" fill="#1a2ad0"/>
<circle cx="283.4" cy="369.5" r="1.3" fill="#1a2ad0"/>
<circle cx="283.8" cy="366.1" r="1.3" fill="#1a2ad0"/>
<circle cx="284.2" cy="363.5" r="1.3" fill="#1a2ad0"/>
<circle cx="285.1" cy="360.5" r="1.3" fill="#1a2ad0"/>
<circle cx="285.7" cy="357.3" r="1.3" fill="#1a2ad0"/>
<circle cx="286.1" cy="355.2" r="1.3" fill="#1a2ad0"/>
<circle cx="287.0" cy="350.1" r="1.3" fill="#1a2ad0"/>
<circle cx="288.2" cy="346.5" r="1.3" fill="#1a2ad0"/>
<circle cx="289.0" cy="342.3" r="1.3" fill="#1a2ad0"/>
<circle cx="289.9" cy="339.2" r="1.3" fill="#1a2ad0"/>
<circle cx="291.5" cy="337.0" r="1.3" fill="#1a2ad0"/>
<circle cx="293.3" cy="332.6" r="1.3" fill="#1a2ad0"/>
<circle cx="294.7" cy="330.7" r="1.3" fill="#1a2ad0"/>
<circle cx="296.5" cy="328.2" r="1.3" fill="#1a2ad0"/>
<circle cx="299.2" cy="325.9" r="1.3" fill="#1a2ad0"/>
<circle cx="302.2" cy="325.3" r="1.3" fill="#1a2ad0"/>
<circle cx="305.5" cy="323.0" r="1.3" fill="#1a2ad0"/>
<circle cx="309.0" cy="322.7" r="1.3" fill="#1a2ad0"/>
<circle cx="312.2" cy="321.0" r="1.3" fill="#1a2ad0"/>
<circle cx="315.4" cy="320.8" r="1.3" fill="#1a2ad0"/>
<circle cx="319.7" cy="319.7" r="1.3" fill="#1a2ad0"/>
<circle cx="324.3" cy="317.8" r="1.3" fill="#1a2ad0"/>
<circle cx="329.3" cy="317.3" r="1.3" fill="#1a2ad0"/>
<circle cx="332.3" cy="315.5" r="1.3" fill="#1a2ad0"/>
<circle cx="334.7" cy="314.9" r="1.3" fill="#1a2ad0"/>
<circle cx="337.7" cy="314.6" r="1.3" fill="#1a2ad0"/>
<circle cx="340.6" cy="313.6" r="1.3" fill="#1a2ad0"/>
<circle cx="344.2" cy="312.9" r="1.3" fill="#1a2ad0"/>
<circle cx="278.6" cy="402.0" r="1.55" fill="#e01020"/>
<circle cx="279.0" cy="398.9" r="1.55" fill="#e01020"/>
<circle cx="280.0" cy="394.5" r="1.55" fill="#e01020"/>
<circle cx="280.1" cy="391.8" r="1.55" fill="#e01020"/>
<circle cx="280.6" cy="388.3" r="1.55" fill="#e01020"/>
<circle cx="281.1" cy="386.7" r="1.55" fill="#e01020"/>
<circle cx="281.5" cy="383.8" r="1.55" fill="#e01020"/>
<circle cx="281.6" cy="380.1" r="1.55" fill="#e01020"/>
<circle cx="281.9" cy="377.3" r="1.55" fill="#e01020"/>
<circle cx="282.3" cy="373.3" r="1.55" fill="#e01020"/>
<circle cx="282.8" cy="370.5" r="1.55" fill="#e01020"/>
<circle cx="283.4" cy="367.3" r="1.55" fill="#e01020"/>
<circle cx="283.7" cy="364.6" r="1.55" fill="#e01020"/>
<circle cx="284.2" cy="362.0" r="1.55" fill="#e01020"/>
<circle cx="284.7" cy="359.9" r="1.55" fill="#e01020"/>
<circle cx="285.6" cy="356.0" r="1.55" fill="#e01020"/>
<circle cx="285.9" cy="353.8" r="1.55" fill="#e01020"/>
<circle cx="286.9" cy="348.6" r="1.55" fill="#e01020"/>
<circle cx="288.2" cy="345.6" r="1.55" fill="#e01020"/>
<circle cx="289.0" cy="341.0" r="1.55" fill="#e01020"/>
<circle cx="289.9" cy="337.3" r="1.55" fill="#e01020"/>
<circle cx="291.3" cy="335.0" r="1.55" fill="#e01020"/>
<circle cx="292.8" cy="332.5" r="1.55" fill="#e01020"/>
<circle cx="293.9" cy="330.3" r="1.55" fill="#e01020"/>
<circle cx="296.0" cy="325.9" r="1.55" fill="#e01020"/>
<circle cx="298.5" cy="323.3" r="1.55" fill="#e01020"/>
<circle cx="301.4" cy="322.7" r="1.55" fill="#e01020"/>
<circle cx="304.8" cy="319.9" r="1.55" fill="#e01020"/>
<circle cx="306.7" cy="317.8" r="1.55" fill="#e01020"/>
<circle cx="308.9" cy="317.1" r="1.55" fill="#e01020"/>
<circle cx="312.4" cy="315.2" r="1.55" fill="#e01020"/>
<circle cx="315.3" cy="312.8" r="1.55" fill="#e01020"/>
<circle cx="319.7" cy="311.9" r="1.55" fill="#e01020"/>
<circle cx="322.1" cy="310.4" r="1.55" fill="#e01020"/>
<circle cx="324.6" cy="309.0" r="1.55" fill="#e01020"/>
<circle cx="326.8" cy="307.4" r="1.55" fill="#e01020"/>
<circle cx="329.3" cy="305.4" r="1.55" fill="#e01020"/>
<circle cx="331.7" cy="304.6" r="1.55" fill="#e01020"/>
<circle cx="334.8" cy="303.9" r="1.55" fill="#e01020"/>
<circle cx="338.1" cy="302.1" r="1.55" fill="#e01020"/>
<circle cx="340.8" cy="301.7" r="1.55" fill="#e01020"/>
<circle cx="344.8" cy="298.8" r="1.55" fill="#e01020"/>
<path d="M226.50,412.00 L230.25,412.00 L235.54,412.01 L241.75,412.01 L248.30,412.01 L254.58,412.01 L260.00,412.00 L264.77,412.00 L269.41,412.01 L273.78,412.01 L277.76,411.99 L281.21,411.93 L284.00,411.80 L285.94,411.64 L287.11,411.47 L287.75,411.26 L288.11,410.97 L288.44,410.56 L289.00,410.00 L289.71,409.27 L290.37,408.41 L291.01,407.43 L291.64,406.36 L292.29,405.20 L293.00,404.00 L293.79,402.78 L294.65,401.54 L295.54,400.23 L296.40,398.79 L297.21,397.16 L297.90,395.30 L298.47,393.14 L298.94,390.72 L299.34,388.12 L299.72,385.41 L300.09,382.68 L300.50,380.00 L300.90,377.31 L301.27,374.52 L301.63,371.71 L302.03,368.94 L302.51,366.28 L303.10,363.80 L303.77,361.49 L304.47,359.31 L305.26,357.23 L306.15,355.26 L307.18,353.38 L308.40,351.60 L309.81,349.93 L311.39,348.38 L313.11,346.93 L314.95,345.54 L316.89,344.21 L318.90,342.90 L321.06,341.57 L323.40,340.25 L325.83,338.97 L328.28,337.79 L330.67,336.75 L332.90,335.90 L335.11,335.28 L337.37,334.85 L339.57,334.56 L341.58,334.37 L343.27,334.24 L344.50,334.10" stroke="#000" stroke-width="0.6" fill="none" stroke-linejoin="round" />
<rect x="225.5" y="411.0" width="2.0" height="2.0" fill="#000"/>
<rect x="229.3" y="411.0" width="2.0" height="2.0" fill="#000"/>
<rect x="234.5" y="411.0" width="2.0" height="2.0" fill="#000"/>
<rect x="240.8" y="411.0" width="2.0" height="2.0" fill="#000"/>
<rect x="247.3" y="411.0" width="2.0" height="2.0" fill="#000"/>
<rect x="253.6" y="411.0" width="2.0" height="2.0" fill="#000"/>
<rect x="259.0" y="411.0" width="2.0" height="2.0" fill="#000"/>
<rect x="263.8" y="411.0" width="2.0" height="2.0" fill="#000"/>
<rect x="268.4" y="411.0" width="2.0" height="2.0" fill="#000"/>
<rect x="272.8" y="411.0" width="2.0" height="2.0" fill="#000"/>
<rect x="276.8" y="411.0" width="2.0" height="2.0" fill="#000"/>
<rect x="283.0" y="410.8" width="2.0" height="2.0" fill="#000"/>
<rect x="286.8" y="410.3" width="2.0" height="2.0" fill="#000"/>
<rect x="289.4" y="407.4" width="2.0" height="2.0" fill="#000"/>
<rect x="291.3" y="404.2" width="2.0" height="2.0" fill="#000"/>
<rect x="293.7" y="400.5" width="2.0" height="2.0" fill="#000"/>
<rect x="296.2" y="396.2" width="2.0" height="2.0" fill="#000"/>
<rect x="297.5" y="392.1" width="2.0" height="2.0" fill="#000"/>
<rect x="298.3" y="387.1" width="2.0" height="2.0" fill="#000"/>
<rect x="299.1" y="381.7" width="2.0" height="2.0" fill="#000"/>
<rect x="299.9" y="376.3" width="2.0" height="2.0" fill="#000"/>
<rect x="300.6" y="370.7" width="2.0" height="2.0" fill="#000"/>
<rect x="301.5" y="365.3" width="2.0" height="2.0" fill="#000"/>
<rect x="302.8" y="360.5" width="2.0" height="2.0" fill="#000"/>
<rect x="304.3" y="356.2" width="2.0" height="2.0" fill="#000"/>
<rect x="306.2" y="352.4" width="2.0" height="2.0" fill="#000"/>
<rect x="308.8" y="348.9" width="2.0" height="2.0" fill="#000"/>
<rect x="312.1" y="345.9" width="2.0" height="2.0" fill="#000"/>
<rect x="315.9" y="343.2" width="2.0" height="2.0" fill="#000"/>
<rect x="320.1" y="340.6" width="2.0" height="2.0" fill="#000"/>
<rect x="324.8" y="338.0" width="2.0" height="2.0" fill="#000"/>
<rect x="329.7" y="335.7" width="2.0" height="2.0" fill="#000"/>
<rect x="334.1" y="334.3" width="2.0" height="2.0" fill="#000"/>
<rect x="338.6" y="333.6" width="2.0" height="2.0" fill="#000"/>
<rect x="342.3" y="333.2" width="2.0" height="2.0" fill="#000"/>
<text x="377.80" y="245.70" font-size="12.6" font-weight="bold" text-anchor="start" fill="#000" stroke="#000" stroke-width="0.3"><tspan>(d)</tspan></text>
<defs><linearGradient id="gfront" x1="0" x2="0.15" y1="0" y2="1"><stop offset="0" stop-color="#a2a2a2"/><stop offset="0.2" stop-color="#b0b0b0"/><stop offset="0.45" stop-color="#c8c8c8"/><stop offset="0.65" stop-color="#b4b4b4"/><stop offset="0.88" stop-color="#dadada"/><stop offset="1" stop-color="#d0d0d0"/></linearGradient><linearGradient id="gright" x1="0" x2="0" y1="0" y2="1"><stop offset="0" stop-color="#c4c4c4"/><stop offset="1" stop-color="#7c7c7c"/></linearGradient><pattern id="brush" width="60" height="2.6" patternUnits="userSpaceOnUse"><line x1="0" y1="1" x2="60" y2="1" stroke="#000" stroke-opacity="0.07" stroke-width="0.9"/></pattern></defs>
<polygon points="408.60,271.40 470.90,275.40 470.90,297.00 540.80,302.00 540.80,328.60 410.90,314.00" fill="url(#gfront)" />
<polygon points="408.60,271.40 470.90,275.40 470.90,297.00 540.80,302.00 540.80,328.60 410.90,314.00" fill="url(#brush)" />
<polygon points="540.80,302.00 559.00,285.00 559.00,306.70 540.80,328.60" fill="url(#gright)" />
<polygon points="407.80,266.90 461.70,250.00 512.60,250.60 512.60,269.80 559.00,270.50 559.00,285.00 540.80,302.00 470.90,297.00 470.90,275.40 408.60,271.40" fill="#ee6870" />
<polygon points="407.80,266.90 461.70,250.00 512.60,250.60 489.00,262.00 475.40,269.70" fill="#f27078" />
<polygon points="407.80,267.40 475.40,270.10 475.40,275.60 408.60,272.40" fill="#c04450" />
<polygon points="475.40,269.70 489.00,262.00 512.60,250.60 512.60,269.80 500.00,281.00 475.40,294.00" fill="#ea626b" />
<polygon points="475.40,294.00 500.00,281.00 512.60,269.80 559.00,270.50 540.80,297.00" fill="#f3787f" />
<polygon points="470.90,292.00 540.80,297.00 540.80,302.00 470.90,297.00" fill="#d04c57" />
<polygon points="470.90,270.00 475.40,270.30 475.40,294.00 470.90,292.00" fill="#d85560" />
<polygon points="540.80,297.00 559.00,270.50 559.00,285.00 540.80,302.00" fill="#e05c66" />
<polygon points="443.40,258.90 455.00,250.60 490.00,250.80 484.00,256.00 473.00,258.50 467.60,258.90" fill="#dcbd58" />
<polygon points="443.40,258.90 467.60,258.90 467.60,263.40 443.40,263.40" fill="#eea05a" />
<polygon points="467.60,258.90 473.00,258.50 473.00,263.00 467.60,263.40" fill="#f4e070" />
<polygon points="473.00,258.50 484.00,256.00 486.00,260.00 473.00,263.00" fill="#eea05a" />
<text x="0.00" y="0.00" transform="translate(470.50,256.50) scale(1.0,1.1)" font-size="6.0" font-weight="bold" text-anchor="middle" fill="#000" stroke="#000" stroke-width="0.12"><tspan>Source</tspan></text>
<polygon points="485.6,256.3 499.8,256.3 499.8,276.2 507.6,276.2 507.6,281.9 492.7,281.9 492.7,261.3 485.6,261.3" fill="#28d028" stroke="#106010" stroke-width="0.7"/>
<polygon points="494.50,261.30 498.00,258.00 498.00,278.00 494.50,279.00" fill="#48f048" />
<polygon points="505.20,279.30 513.00,275.40 548.40,275.40 549.40,278.30 542.50,284.20 509.00,286.20" fill="#f4de74" />
<polygon points="509.00,284.20 542.50,284.20 542.50,289.10 509.00,289.10" fill="#f0a050" />
<polygon points="542.50,284.20 549.40,278.30 549.40,282.00 542.50,289.10" fill="#e89040" />
<text x="0.00" y="0.00" transform="translate(530.70,281.60) scale(1.0,1.1)" font-size="5.8" font-weight="bold" text-anchor="middle" fill="#000" stroke="#000" stroke-width="0.12"><tspan>Drain</tspan></text>
<text x="0.00" y="0.00" transform="translate(414.60,292.60) scale(1.0,1.1)" font-size="9.8" font-weight="bold" text-anchor="start" fill="#000" stroke="#000" stroke-width="0.22"><tspan>P</tspan><tspan font-size="5.39" dy="-3.53">++</tspan><tspan dy="3.53"> Si(Gate)</tspan></text>
<text x="0.00" y="0.00" transform="translate(482.60,302.80) scale(1.0,1.1)" font-size="9.4" font-weight="bold" text-anchor="start" fill="#000" stroke="#000" stroke-width="0.22"><tspan>Al</tspan><tspan font-size="6.58" dy="2.82">2</tspan><tspan dy="-2.82">O</tspan><tspan font-size="6.58" dy="2.82">3</tspan></text>
<text x="0.00" y="0.00" transform="translate(505.30,240.30) scale(1.0,1.1)" font-size="9.6" font-weight="bold" text-anchor="start" fill="#000" stroke="#000" stroke-width="0.22"><tspan>IZTO</tspan></text>
<line x1="512.00" y1="241.50" x2="504.00" y2="253.00" stroke="#222" stroke-width="0.5" />
<path d="M497,256 L490,257 L490,287.5 L500,281 M497,256 L604.4,238.6 M490,287.5 L604.4,329.9" stroke="#111" stroke-width="1" fill="none" stroke-dasharray="3,2"/>
<defs><clipPath id="temd"><rect x="604.4" y="238.6" width="90.6" height="91.3"/></clipPath><filter id="blurC" x="-20%" y="-20%" width="140%" height="140%"><feGaussianBlur stdDeviation="0.9"/></filter><filter id="speck2" x="0" y="0" width="100%" height="100%"><feTurbulence type="fractalNoise" baseFrequency="0.35" numOctaves="2" seed="5"/><feColorMatrix type="matrix" values="0 0 0 0 0  0 0 0 0 0  0 0 0 0 0  -2 0 0 0 1.2"/></filter></defs>
<g clip-path="url(#temd)">
<rect x="604.4" y="238.6" width="90.6" height="91.3" fill="#7c7c7c"/>
<path d="M600,234 L647.4,234.0 L647.4,234.9 L647.4,236.2 L647.3,237.7 L647.3,239.3 L647.3,241.0 L647.2,242.8 L647.1,244.5 L646.9,246.0 L646.7,247.4 L646.4,248.6 L646.0,249.8 L645.7,250.9 L645.3,252.2 L644.9,253.6 L644.5,255.2 L644.2,257.0 L643.9,259.2 L643.5,261.6 L643.1,264.3 L642.7,267.1 L642.4,270.0 L642.1,272.8 L641.9,275.5 L641.8,278.0 L641.8,280.3 L641.9,282.5 L642.1,284.6 L642.3,286.6 L642.6,288.7 L643.0,290.7 L643.4,292.8 L643.9,295.0 L644.4,297.3 L645.1,299.6 L645.8,301.9 L646.5,304.3 L647.3,306.7 L648.2,309.1 L649.0,311.6 L649.9,314.0 L650.9,316.6 L651.9,319.4 L653.1,322.3 L654.3,325.2 L655.4,327.9 L656.4,330.4 L657.3,332.5 L657.9,334.0 L600,334 Z" fill="#b0b0b0"/>
<rect x="604.4" y="238.6" width="45" height="91.3" fill="#000" opacity="0.12" filter="url(#speck2)"/>
<path d="M645.8,234.0 L645.8,234.9 L645.8,236.2 L645.7,237.7 L645.7,239.3 L645.7,241.0 L645.6,242.8 L645.5,244.5 L645.3,246.0 L645.1,247.4 L644.8,248.6 L644.4,249.8 L644.1,250.9 L643.7,252.2 L643.3,253.6 L642.9,255.2 L642.6,257.0 L642.3,259.2 L641.9,261.6 L641.5,264.3 L641.1,267.1 L640.8,270.0 L640.5,272.8 L640.3,275.5 L640.2,278.0 L640.2,280.3 L640.3,282.5 L640.5,284.6 L640.7,286.6 L641.0,288.7 L641.4,290.7 L641.8,292.8 L642.3,295.0 L642.8,297.3 L643.5,299.6 L644.2,301.9 L644.9,304.3 L645.7,306.7 L646.6,309.1 L647.4,311.6 L648.3,314.0 L649.3,316.6 L650.3,319.4 L651.5,322.3 L652.7,325.2 L653.8,327.9 L654.8,330.4 L655.7,332.5 L656.3,334.0" stroke="#d4d4d4" stroke-width="2.2" fill="none" opacity="0.7" filter="url(#blurC)"/>
<path d="M650.0,234.0 L650.0,234.9 L650.0,236.2 L649.9,237.7 L649.9,239.3 L649.9,241.0 L649.8,242.8 L649.7,244.5 L649.5,246.0 L649.3,247.4 L649.0,248.6 L648.6,249.8 L648.3,250.9 L647.9,252.2 L647.5,253.6 L647.1,255.2 L646.8,257.0 L646.5,259.2 L646.1,261.6 L645.7,264.3 L645.3,267.1 L645.0,270.0 L644.7,272.8 L644.5,275.5 L644.4,278.0 L644.4,280.3 L644.5,282.5 L644.7,284.6 L644.9,286.6 L645.2,288.7 L645.6,290.7 L646.0,292.8 L646.5,295.0 L647.0,297.3 L647.7,299.6 L648.4,301.9 L649.1,304.3 L649.9,306.7 L650.8,309.1 L651.6,311.6 L652.5,314.0 L653.5,316.6 L654.5,319.4 L655.7,322.3 L656.9,325.2 L658.0,327.9 L659.0,330.4 L659.9,332.5 L660.5,334.0" stroke="#0a0a0a" stroke-width="5.6" fill="none" filter="url(#blurC)"/>
</g>
<text x="0.00" y="0.00" transform="translate(646.30,271.00) scale(1.0,1.1)" font-size="9.7" font-weight="bold" text-anchor="middle" fill="#fff" stroke="#fff" stroke-width="0.22"><tspan>IZTO</tspan></text>
<text x="0.00" y="0.00" transform="translate(643.80,291.00) scale(1.0,1.1)" font-size="9.9" font-weight="bold" text-anchor="start" fill="#f0f018" stroke="#f0f018" stroke-width="0.22"><tspan>12 nm</tspan></text>
<line x1="633.00" y1="284.50" x2="640.00" y2="283.00" stroke="#f0f018" stroke-width="0.8" />
<line x1="648.00" y1="282.30" x2="657.00" y2="282.30" stroke="#f0f018" stroke-width="0.8" />
<text x="0.00" y="0.00" transform="translate(664.20,300.60) scale(1.0,1.1)" font-size="9.6" font-weight="bold" text-anchor="start" fill="#000" stroke="#000" stroke-width="0.22"><tspan>Al</tspan><tspan font-size="6.72" dy="2.88">2</tspan><tspan dy="-2.88">O</tspan><tspan font-size="6.72" dy="2.88">3</tspan></text>
<text x="0.00" y="0.00" transform="translate(608.50,309.20) scale(1.0,1.1)" font-size="10" font-weight="bold" text-anchor="start" fill="#000" stroke="#000" stroke-width="0.22"><tspan>Epoxy</tspan></text>
<text x="0.00" y="0.00" transform="translate(606.60,325.00) scale(1.0,1.1)" font-size="9.8" font-weight="bold" text-anchor="start" fill="#fff" stroke="#fff" stroke-width="0.22"><tspan>20 nm</tspan></text>
<line x1="606.60" y1="326.80" x2="621.50" y2="326.80" stroke="#fff" stroke-width="1.0" />
<rect x="410.8" y="350.5" width="115.59999999999997" height="85.69999999999999" fill="none" stroke="#808080" stroke-width="0.9"/>
<text x="0.00" y="0.00" transform="translate(408.80,355.00) scale(1.0,1.1)" font-size="8.6" font-weight="bold" text-anchor="end" fill="#000" stroke="#000" stroke-width="0.22"><tspan>10</tspan><tspan font-size="5.16" dy="-2.75">−2</tspan></text>
<text x="0.00" y="0.00" transform="translate(408.80,371.94) scale(1.0,1.1)" font-size="8.6" font-weight="bold" text-anchor="end" fill="#000" stroke="#000" stroke-width="0.22"><tspan>10</tspan><tspan font-size="5.16" dy="-2.75">−4</tspan></text>
<text x="0.00" y="0.00" transform="translate(408.80,388.88) scale(1.0,1.1)" font-size="8.6" font-weight="bold" text-anchor="end" fill="#000" stroke="#000" stroke-width="0.22"><tspan>10</tspan><tspan font-size="5.16" dy="-2.75">−6</tspan></text>
<text x="0.00" y="0.00" transform="translate(408.80,405.82) scale(1.0,1.1)" font-size="8.6" font-weight="bold" text-anchor="end" fill="#000" stroke="#000" stroke-width="0.22"><tspan>10</tspan><tspan font-size="5.16" dy="-2.75">−8</tspan></text>
<text x="0.00" y="0.00" transform="translate(408.80,422.76) scale(1.0,1.1)" font-size="8.6" font-weight="bold" text-anchor="end" fill="#000" stroke="#000" stroke-width="0.22"><tspan>10</tspan><tspan font-size="5.16" dy="-2.75">−10</tspan></text>
<text x="0.00" y="0.00" transform="translate(408.80,439.70) scale(1.0,1.1)" font-size="8.6" font-weight="bold" text-anchor="end" fill="#000" stroke="#000" stroke-width="0.22"><tspan>10</tspan><tspan font-size="5.16" dy="-2.75">−12</tspan></text>
<text x="0.00" y="0.00" transform="translate(419.20,448.00) scale(1.0,1.1)" font-size="8.6" font-weight="bold" text-anchor="middle" fill="#000" stroke="#000" stroke-width="0.22"><tspan>−20</tspan></text>
<line x1="419.20" y1="436.20" x2="419.20" y2="434.40" stroke="#808080" stroke-width="0.6" />
<text x="0.00" y="0.00" transform="translate(443.17,448.00) scale(1.0,1.1)" font-size="8.6" font-weight="bold" text-anchor="middle" fill="#000" stroke="#000" stroke-width="0.22"><tspan>−10</tspan></text>
<line x1="443.17" y1="436.20" x2="443.17" y2="434.40" stroke="#808080" stroke-width="0.6" />
<text x="0.00" y="0.00" transform="translate(467.15,448.00) scale(1.0,1.1)" font-size="8.6" font-weight="bold" text-anchor="middle" fill="#000" stroke="#000" stroke-width="0.22"><tspan>0</tspan></text>
<line x1="467.15" y1="436.20" x2="467.15" y2="434.40" stroke="#808080" stroke-width="0.6" />
<text x="0.00" y="0.00" transform="translate(491.12,448.00) scale(1.0,1.1)" font-size="8.6" font-weight="bold" text-anchor="middle" fill="#000" stroke="#000" stroke-width="0.22"><tspan>10</tspan></text>
<line x1="491.12" y1="436.20" x2="491.12" y2="434.40" stroke="#808080" stroke-width="0.6" />
<text x="0.00" y="0.00" transform="translate(515.10,448.00) scale(1.0,1.1)" font-size="8.6" font-weight="bold" text-anchor="middle" fill="#000" stroke="#000" stroke-width="0.22"><tspan>20</tspan></text>
<line x1="515.10" y1="436.20" x2="515.10" y2="434.40" stroke="#808080" stroke-width="0.6" />
<text x="0.00" y="0.00" transform="translate(529.60,439.30) scale(1.0,1.1)" font-size="8.6" font-weight="bold" text-anchor="start" fill="#000" stroke="#000" stroke-width="0.22"><tspan>0</tspan></text>
<line x1="526.40" y1="436.00" x2="524.60" y2="436.00" stroke="#808080" stroke-width="0.6" />
<text x="0.00" y="0.00" transform="translate(529.60,418.05) scale(1.0,1.1)" font-size="8.6" font-weight="bold" text-anchor="start" fill="#000" stroke="#000" stroke-width="0.22"><tspan>5</tspan></text>
<line x1="526.40" y1="414.75" x2="524.60" y2="414.75" stroke="#808080" stroke-width="0.6" />
<text x="0.00" y="0.00" transform="translate(529.60,396.80) scale(1.0,1.1)" font-size="8.6" font-weight="bold" text-anchor="start" fill="#000" stroke="#000" stroke-width="0.22"><tspan>10</tspan></text>
<line x1="526.40" y1="393.50" x2="524.60" y2="393.50" stroke="#808080" stroke-width="0.6" />
<text x="0.00" y="0.00" transform="translate(529.60,375.55) scale(1.0,1.1)" font-size="8.6" font-weight="bold" text-anchor="start" fill="#000" stroke="#000" stroke-width="0.22"><tspan>15</tspan></text>
<line x1="526.40" y1="372.25" x2="524.60" y2="372.25" stroke="#808080" stroke-width="0.6" />
<text x="0.00" y="0.00" transform="translate(529.60,354.30) scale(1.0,1.1)" font-size="8.6" font-weight="bold" text-anchor="start" fill="#000" stroke="#000" stroke-width="0.22"><tspan>20</tspan></text>
<line x1="526.40" y1="351.00" x2="524.60" y2="351.00" stroke="#808080" stroke-width="0.6" />
<text x="0.00" y="0.00" transform="translate(465.30,456.40) scale(1.0,1.1)" font-size="8.8" font-weight="bold" text-anchor="middle" fill="#000" stroke="#000" stroke-width="0.22"><tspan font-style="italic">V</tspan><tspan font-size="5.02" dy="1.14">GS</tspan><tspan dy="-1.14">/V</tspan></text>
<text x="0.00" y="0.00" transform="translate(384.40,394.00) rotate(-90) scale(1.0,1.1)" font-size="6.6" font-weight="bold" text-anchor="middle" fill="#000" stroke="#000" stroke-width="0.15"><tspan font-style="italic">I</tspan><tspan font-size="3.76" dy="0.86">DS</tspan><tspan dy="-0.86">/A</tspan></text>
<text x="0.00" y="0.00" transform="translate(548.00,389.30) rotate(-90) scale(1.0,1.1)" font-size="8.0" font-weight="bold" text-anchor="middle" fill="#000" stroke="#000" stroke-width="0.22"><tspan font-style="italic">μ</tspan><tspan font-size="4.56" dy="1.04">FE</tspan><tspan dy="-1.04">/cm</tspan><tspan font-size="4.56" dy="-3.36">2</tspan><tspan dy="3.36">·V</tspan><tspan font-size="4.56" dy="-3.36">−1</tspan><tspan dy="3.36">s</tspan><tspan font-size="4.56" dy="-3.36">−1</tspan></text>
<line x1="412.30" y1="379.20" x2="427.80" y2="379.20" stroke="#000" stroke-width="1.0" />
<line x1="412.30" y1="389.60" x2="427.80" y2="389.60" stroke="#e01020" stroke-width="1.0" />
<circle cx="420" cy="379.2" r="1.1" fill="#000"/><circle cx="420" cy="389.6" r="1.1" fill="#e01020"/>
<text x="0.00" y="0.00" transform="translate(428.80,382.40) scale(1.0,1.1)" font-size="8.6" font-weight="bold" text-anchor="start" fill="#000" stroke="#000" stroke-width="0.22"><tspan font-style="italic">V</tspan><tspan font-size="4.90" dy="1.12">DS</tspan><tspan dy="-1.12">=0.1 V</tspan></text>
<text x="0.00" y="0.00" transform="translate(428.80,392.80) scale(1.0,1.1)" font-size="8.6" font-weight="bold" text-anchor="start" fill="#000" stroke="#000" stroke-width="0.22"><tspan font-style="italic">V</tspan><tspan font-size="4.90" dy="1.12">DS</tspan><tspan dy="-1.12">=1 V</tspan></text>
<path d="M432.50,412.40 L441.60,434.60 L441.60,434.60 L441.92,434.02 L442.36,433.18 L442.88,432.22 L443.44,431.28 L444.00,430.50 L444.53,429.87 L445.06,429.30 L445.63,428.80 L446.26,428.37 L447.00,428.00 L447.82,427.72 L448.71,427.53 L449.69,427.40 L450.78,427.29 L452.00,427.20 L453.40,427.12 L454.97,427.08 L456.63,427.05 L458.33,427.03 L460.00,427.00 L461.77,426.96 L463.70,426.91 L465.56,426.87 L467.17,426.83 L468.30,426.80 L468.30,426.80 L469.30,407.20 L470.50,397.00 L470.50,397.00 L470.64,396.15 L470.81,394.94 L471.03,393.53 L471.30,392.06 L471.62,390.66 L472.00,389.50 L472.46,388.55 L472.98,387.70 L473.56,386.94 L474.19,386.24 L474.84,385.60 L475.50,385.00 L476.15,384.47 L476.80,384.01 L477.47,383.61 L478.21,383.24 L479.04,382.88 L480.00,382.50 L481.07,382.10 L482.21,381.71 L483.45,381.32 L484.80,380.94 L486.28,380.56 L487.90,380.20 L489.68,379.84 L491.61,379.49 L493.67,379.14 L495.84,378.80 L498.09,378.49 L500.40,378.20 L502.99,377.93 L505.92,377.67 L508.93,377.43 L511.77,377.21 L514.18,377.03 L515.90,376.90" stroke="#000" stroke-width="1.1" fill="none" stroke-linejoin="round" />
<path d="M432.50,409.30 L441.90,434.60 L441.90,434.60 L442.17,433.94 L442.55,432.99 L442.99,431.90 L443.49,430.85 L444.00,430.00 L444.51,429.35 L445.04,428.80 L445.61,428.32 L446.26,427.93 L447.00,427.60 L447.82,427.36 L448.71,427.20 L449.69,427.11 L450.78,427.05 L452.00,427.00 L453.40,426.96 L454.97,426.96 L456.63,426.98 L458.33,427.00 L460.00,427.00 L461.77,426.98 L463.70,426.96 L465.56,426.94 L467.17,426.92 L468.30,426.90 L468.30,426.90 L469.00,408.00 L470.00,392.00 L470.00,392.00 L470.15,391.03 L470.35,389.67 L470.59,388.06 L470.87,386.39 L471.17,384.81 L471.50,383.50 L471.84,382.44 L472.20,381.50 L472.59,380.66 L473.02,379.89 L473.48,379.18 L474.00,378.50 L474.51,377.89 L475.00,377.37 L475.54,376.91 L476.17,376.46 L476.97,376.01 L478.00,375.50 L479.28,374.93 L480.77,374.33 L482.42,373.71 L484.19,373.10 L486.03,372.53 L487.90,372.00 L489.80,371.52 L491.76,371.08 L493.80,370.67 L495.91,370.29 L498.11,369.93 L500.40,369.60 L502.99,369.29 L505.92,369.01 L508.93,368.75 L511.77,368.53 L514.18,368.34 L515.90,368.20" stroke="#e01020" stroke-width="1.3" fill="none" stroke-linejoin="round" />
<circle cx="432.5" cy="412.4" r="0.9" fill="#000"/>
<circle cx="441.6" cy="434.6" r="0.9" fill="#000"/>
<circle cx="442.4" cy="433.2" r="0.9" fill="#000"/>
<circle cx="443.4" cy="431.3" r="0.9" fill="#000"/>
<circle cx="444.5" cy="429.9" r="0.9" fill="#000"/>
<circle cx="446.3" cy="428.4" r="0.9" fill="#000"/>
<circle cx="447.8" cy="427.7" r="0.9" fill="#000"/>
<circle cx="449.7" cy="427.4" r="0.9" fill="#000"/>
<circle cx="452.0" cy="427.2" r="0.9" fill="#000"/>
<circle cx="455.0" cy="427.1" r="0.9" fill="#000"/>
<circle cx="456.6" cy="427.1" r="0.9" fill="#000"/>
<circle cx="458.3" cy="427.0" r="0.9" fill="#000"/>
<circle cx="460.0" cy="427.0" r="0.9" fill="#000"/>
<circle cx="461.8" cy="427.0" r="0.9" fill="#000"/>
<circle cx="463.7" cy="426.9" r="0.9" fill="#000"/>
<circle cx="465.6" cy="426.9" r="0.9" fill="#000"/>
<circle cx="467.2" cy="426.8" r="0.9" fill="#000"/>
<circle cx="469.3" cy="407.2" r="0.9" fill="#000"/>
<circle cx="470.5" cy="397.0" r="0.9" fill="#000"/>
<circle cx="470.8" cy="394.9" r="0.9" fill="#000"/>
<circle cx="471.3" cy="392.1" r="0.9" fill="#000"/>
<circle cx="472.0" cy="389.5" r="0.9" fill="#000"/>
<circle cx="473.0" cy="387.7" r="0.9" fill="#000"/>
<circle cx="474.2" cy="386.2" r="0.9" fill="#000"/>
<circle cx="475.5" cy="385.0" r="0.9" fill="#000"/>
<circle cx="476.8" cy="384.0" r="0.9" fill="#000"/>
<circle cx="478.2" cy="383.2" r="0.9" fill="#000"/>
<circle cx="480.0" cy="382.5" r="0.9" fill="#000"/>
<circle cx="482.2" cy="381.7" r="0.9" fill="#000"/>
<circle cx="484.8" cy="380.9" r="0.9" fill="#000"/>
<circle cx="487.9" cy="380.2" r="0.9" fill="#000"/>
<circle cx="489.7" cy="379.8" r="0.9" fill="#000"/>
<circle cx="491.6" cy="379.5" r="0.9" fill="#000"/>
<circle cx="493.7" cy="379.1" r="0.9" fill="#000"/>
<circle cx="495.8" cy="378.8" r="0.9" fill="#000"/>
<circle cx="498.1" cy="378.5" r="0.9" fill="#000"/>
<circle cx="500.4" cy="378.2" r="0.9" fill="#000"/>
<circle cx="503.0" cy="377.9" r="0.9" fill="#000"/>
<circle cx="505.9" cy="377.7" r="0.9" fill="#000"/>
<circle cx="508.9" cy="377.4" r="0.9" fill="#000"/>
<circle cx="511.8" cy="377.2" r="0.9" fill="#000"/>
<circle cx="514.2" cy="377.0" r="0.9" fill="#000"/>
<circle cx="515.9" cy="376.9" r="0.9" fill="#000"/>
<circle cx="432.5" cy="409.3" r="1.0" fill="#e01020"/>
<circle cx="441.9" cy="434.6" r="1.0" fill="#e01020"/>
<circle cx="442.5" cy="433.0" r="1.0" fill="#e01020"/>
<circle cx="443.5" cy="430.9" r="1.0" fill="#e01020"/>
<circle cx="444.5" cy="429.4" r="1.0" fill="#e01020"/>
<circle cx="446.3" cy="427.9" r="1.0" fill="#e01020"/>
<circle cx="447.8" cy="427.4" r="1.0" fill="#e01020"/>
<circle cx="449.7" cy="427.1" r="1.0" fill="#e01020"/>
<circle cx="452.0" cy="427.0" r="1.0" fill="#e01020"/>
<circle cx="455.0" cy="427.0" r="1.0" fill="#e01020"/>
<circle cx="456.6" cy="427.0" r="1.0" fill="#e01020"/>
<circle cx="458.3" cy="427.0" r="1.0" fill="#e01020"/>
<circle cx="460.0" cy="427.0" r="1.0" fill="#e01020"/>
<circle cx="461.8" cy="427.0" r="1.0" fill="#e01020"/>
<circle cx="463.7" cy="427.0" r="1.0" fill="#e01020"/>
<circle cx="465.6" cy="426.9" r="1.0" fill="#e01020"/>
<circle cx="467.2" cy="426.9" r="1.0" fill="#e01020"/>
<circle cx="469.0" cy="408.0" r="1.0" fill="#e01020"/>
<circle cx="470.0" cy="392.0" r="1.0" fill="#e01020"/>
<circle cx="470.4" cy="389.7" r="1.0" fill="#e01020"/>
<circle cx="470.6" cy="388.1" r="1.0" fill="#e01020"/>
<circle cx="470.9" cy="386.4" r="1.0" fill="#e01020"/>
<circle cx="471.2" cy="384.8" r="1.0" fill="#e01020"/>
<circle cx="471.8" cy="382.4" r="1.0" fill="#e01020"/>
<circle cx="472.6" cy="380.7" r="1.0" fill="#e01020"/>
<circle cx="473.5" cy="379.2" r="1.0" fill="#e01020"/>
<circle cx="474.5" cy="377.9" r="1.0" fill="#e01020"/>
<circle cx="476.2" cy="376.5" r="1.0" fill="#e01020"/>
<circle cx="478.0" cy="375.5" r="1.0" fill="#e01020"/>
<circle cx="480.8" cy="374.3" r="1.0" fill="#e01020"/>
<circle cx="482.4" cy="373.7" r="1.0" fill="#e01020"/>
<circle cx="484.2" cy="373.1" r="1.0" fill="#e01020"/>
<circle cx="486.0" cy="372.5" r="1.0" fill="#e01020"/>
<circle cx="487.9" cy="372.0" r="1.0" fill="#e01020"/>
<circle cx="489.8" cy="371.5" r="1.0" fill="#e01020"/>
<circle cx="491.8" cy="371.1" r="1.0" fill="#e01020"/>
<circle cx="493.8" cy="370.7" r="1.0" fill="#e01020"/>
<circle cx="495.9" cy="370.3" r="1.0" fill="#e01020"/>
<circle cx="498.1" cy="369.9" r="1.0" fill="#e01020"/>
<circle cx="500.4" cy="369.6" r="1.0" fill="#e01020"/>
<circle cx="503.0" cy="369.3" r="1.0" fill="#e01020"/>
<circle cx="505.9" cy="369.0" r="1.0" fill="#e01020"/>
<circle cx="508.9" cy="368.8" r="1.0" fill="#e01020"/>
<circle cx="511.8" cy="368.5" r="1.0" fill="#e01020"/>
<circle cx="514.2" cy="368.3" r="1.0" fill="#e01020"/>
<circle cx="515.9" cy="368.2" r="1.0" fill="#e01020"/>
<line x1="441.00" y1="435.60" x2="468.20" y2="435.60" stroke="#f4a0a0" stroke-width="0.8" />
<path d="M468.20,434.20 L468.52,431.03 L468.96,426.47 L469.49,421.15 L470.07,415.73 L470.68,410.87 L471.30,407.20 L471.91,404.82 L472.54,403.22 L473.21,402.17 L473.91,401.44 L474.67,400.80 L475.50,400.00 L476.42,399.10 L477.42,398.30 L478.48,397.58 L479.56,396.93 L480.64,396.34 L481.70,395.80 L482.73,395.30 L483.76,394.85 L484.79,394.46 L485.83,394.14 L486.86,393.88 L487.90,393.70 L488.92,393.60 L489.92,393.56 L490.92,393.60 L491.95,393.70 L493.03,393.87 L494.20,394.10 L495.49,394.42 L496.90,394.84 L498.36,395.32 L499.81,395.83 L501.22,396.33 L502.50,396.80 L503.67,397.21 L504.76,397.60 L505.79,397.99 L506.79,398.39 L507.75,398.82 L508.70,399.30 L509.68,399.89 L510.70,400.58 L511.69,401.31 L512.59,402.00 L513.35,402.58 L513.90,403.00" stroke="#f6a0a0" stroke-width="0.5" fill="none" stroke-linejoin="round" />
<circle cx="468.2" cy="434.2" r="1.0" fill="#fff" stroke="#f06868" stroke-width="0.45"/>
<circle cx="468.5" cy="431.0" r="1.0" fill="#fff" stroke="#f06868" stroke-width="0.45"/>
<circle cx="469.0" cy="426.5" r="1.0" fill="#fff" stroke="#f06868" stroke-width="0.45"/>
<circle cx="469.5" cy="421.2" r="1.0" fill="#fff" stroke="#f06868" stroke-width="0.45"/>
<circle cx="470.1" cy="415.7" r="1.0" fill="#fff" stroke="#f06868" stroke-width="0.45"/>
<circle cx="470.7" cy="410.9" r="1.0" fill="#fff" stroke="#f06868" stroke-width="0.45"/>
<circle cx="471.3" cy="407.2" r="1.0" fill="#fff" stroke="#f06868" stroke-width="0.45"/>
<circle cx="471.9" cy="404.8" r="1.0" fill="#fff" stroke="#f06868" stroke-width="0.45"/>
<circle cx="472.5" cy="403.2" r="1.0" fill="#fff" stroke="#f06868" stroke-width="0.45"/>
<circle cx="473.9" cy="401.4" r="1.0" fill="#fff" stroke="#f06868" stroke-width="0.45"/>
<circle cx="475.5" cy="400.0" r="1.0" fill="#fff" stroke="#f06868" stroke-width="0.45"/>
<circle cx="477.4" cy="398.3" r="1.0" fill="#fff" stroke="#f06868" stroke-width="0.45"/>
<circle cx="479.6" cy="396.9" r="1.0" fill="#fff" stroke="#f06868" stroke-width="0.45"/>
<circle cx="481.7" cy="395.8" r="1.0" fill="#fff" stroke="#f06868" stroke-width="0.45"/>
<circle cx="483.8" cy="394.9" r="1.0" fill="#fff" stroke="#f06868" stroke-width="0.45"/>
<circle cx="485.8" cy="394.1" r="1.0" fill="#fff" stroke="#f06868" stroke-width="0.45"/>
<circle cx="487.9" cy="393.7" r="1.0" fill="#fff" stroke="#f06868" stroke-width="0.45"/>
<circle cx="489.9" cy="393.6" r="1.0" fill="#fff" stroke="#f06868" stroke-width="0.45"/>
<circle cx="491.9" cy="393.7" r="1.0" fill="#fff" stroke="#f06868" stroke-width="0.45"/>
<circle cx="494.2" cy="394.1" r="1.0" fill="#fff" stroke="#f06868" stroke-width="0.45"/>
<circle cx="496.9" cy="394.8" r="1.0" fill="#fff" stroke="#f06868" stroke-width="0.45"/>
<circle cx="498.4" cy="395.3" r="1.0" fill="#fff" stroke="#f06868" stroke-width="0.45"/>
<circle cx="499.8" cy="395.8" r="1.0" fill="#fff" stroke="#f06868" stroke-width="0.45"/>
<circle cx="502.5" cy="396.8" r="1.0" fill="#fff" stroke="#f06868" stroke-width="0.45"/>
<circle cx="504.8" cy="397.6" r="1.0" fill="#fff" stroke="#f06868" stroke-width="0.45"/>
<circle cx="506.8" cy="398.4" r="1.0" fill="#fff" stroke="#f06868" stroke-width="0.45"/>
<circle cx="508.7" cy="399.3" r="1.0" fill="#fff" stroke="#f06868" stroke-width="0.45"/>
<circle cx="510.7" cy="400.6" r="1.0" fill="#fff" stroke="#f06868" stroke-width="0.45"/>
<circle cx="512.6" cy="402.0" r="1.0" fill="#fff" stroke="#f06868" stroke-width="0.45"/>
<circle cx="513.9" cy="403.0" r="1.0" fill="#fff" stroke="#f06868" stroke-width="0.45"/>
<line x1="508.30" y1="394.80" x2="518.50" y2="394.80" stroke="#f03030" stroke-width="0.9" />
<polygon points="521.30,394.80 518.10,396.40 518.10,393.20" fill="#f03030" />
<rect x="578.9" y="351.2" width="117.60000000000002" height="86.0" fill="none" stroke="#808080" stroke-width="0.9"/>
<text x="0.00" y="0.00" transform="translate(576.00,440.30) scale(1.0,1.1)" font-size="8.6" font-weight="bold" text-anchor="end" fill="#000" stroke="#000" stroke-width="0.22"><tspan>0.0</tspan></text>
<line x1="578.90" y1="437.00" x2="580.70" y2="437.00" stroke="#808080" stroke-width="0.6" />
<text x="0.00" y="0.00" transform="translate(576.00,411.63) scale(1.0,1.1)" font-size="8.6" font-weight="bold" text-anchor="end" fill="#000" stroke="#000" stroke-width="0.22"><tspan>0.1</tspan></text>
<line x1="578.90" y1="408.33" x2="580.70" y2="408.33" stroke="#808080" stroke-width="0.6" />
<text x="0.00" y="0.00" transform="translate(576.00,382.96) scale(1.0,1.1)" font-size="8.6" font-weight="bold" text-anchor="end" fill="#000" stroke="#000" stroke-width="0.22"><tspan>0.2</tspan></text>
<line x1="578.90" y1="379.66" x2="580.70" y2="379.66" stroke="#808080" stroke-width="0.6" />
<text x="0.00" y="0.00" transform="translate(576.00,354.29) scale(1.0,1.1)" font-size="8.6" font-weight="bold" text-anchor="end" fill="#000" stroke="#000" stroke-width="0.22"><tspan>0.3</tspan></text>
<line x1="578.90" y1="350.99" x2="580.70" y2="350.99" stroke="#808080" stroke-width="0.6" />
<text x="0.00" y="0.00" transform="translate(578.90,448.00) scale(1.0,1.1)" font-size="8.6" font-weight="bold" text-anchor="middle" fill="#000" stroke="#000" stroke-width="0.22"><tspan>0</tspan></text>
<line x1="578.90" y1="437.20" x2="578.90" y2="435.40" stroke="#808080" stroke-width="0.6" />
<text x="0.00" y="0.00" transform="translate(607.90,448.00) scale(1.0,1.1)" font-size="8.6" font-weight="bold" text-anchor="middle" fill="#000" stroke="#000" stroke-width="0.22"><tspan>4</tspan></text>
<line x1="607.90" y1="437.20" x2="607.90" y2="435.40" stroke="#808080" stroke-width="0.6" />
<text x="0.00" y="0.00" transform="translate(636.90,448.00) scale(1.0,1.1)" font-size="8.6" font-weight="bold" text-anchor="middle" fill="#000" stroke="#000" stroke-width="0.22"><tspan>8</tspan></text>
<line x1="636.90" y1="437.20" x2="636.90" y2="435.40" stroke="#808080" stroke-width="0.6" />
<text x="0.00" y="0.00" transform="translate(665.90,448.00) scale(1.0,1.1)" font-size="8.6" font-weight="bold" text-anchor="middle" fill="#000" stroke="#000" stroke-width="0.22"><tspan>12</tspan></text>
<line x1="665.90" y1="437.20" x2="665.90" y2="435.40" stroke="#808080" stroke-width="0.6" />
<text x="0.00" y="0.00" transform="translate(694.90,448.00) scale(1.0,1.1)" font-size="8.6" font-weight="bold" text-anchor="middle" fill="#000" stroke="#000" stroke-width="0.22"><tspan>16</tspan></text>
<line x1="694.90" y1="437.20" x2="694.90" y2="435.40" stroke="#808080" stroke-width="0.6" />
<text x="0.00" y="0.00" transform="translate(639.30,456.40) scale(1.0,1.1)" font-size="8.8" font-weight="bold" text-anchor="middle" fill="#000" stroke="#000" stroke-width="0.22"><tspan font-style="italic">V</tspan><tspan font-size="5.02" dy="1.14">DS</tspan><tspan dy="-1.14">/V</tspan></text>
<text x="0.00" y="0.00" transform="translate(562.20,392.50) rotate(-90) scale(1.0,1.1)" font-size="8.6" font-weight="bold" text-anchor="middle" fill="#000" stroke="#000" stroke-width="0.22"><tspan font-style="italic">I</tspan><tspan font-size="4.90" dy="1.12">DS</tspan><tspan dy="-1.12">/mA</tspan></text>
<path d="M578.90,437.00 L581.07,432.17 L583.25,427.37 L585.42,422.65 L587.60,418.04 L589.77,413.57 L591.95,409.26 L594.12,405.14 L596.30,401.23 L598.48,397.53 L600.65,394.07 L602.82,390.84 L605.00,387.83 L607.17,385.06 L609.35,382.51 L611.52,380.18 L613.70,378.05 L615.88,376.11 L618.05,374.35 L620.23,372.77 L622.40,371.34 L624.57,370.05 L626.75,368.89 L628.92,367.86 L631.10,366.93 L633.27,366.11 L635.45,365.37 L637.62,364.71 L639.80,364.13 L641.98,363.61 L644.15,363.15 L646.33,362.74 L648.50,362.38 L650.67,362.05 L652.85,361.77 L655.02,361.52 L657.20,361.29 L659.38,361.09 L661.55,360.92 L663.72,360.76 L665.90,360.63 L668.08,360.51 L670.25,360.40 L672.42,360.30 L674.60,360.22 L676.77,360.15 L678.95,360.08 L681.12,360.02 L683.30,359.97 L685.47,359.93 L687.65,359.89" stroke="#f040f0" stroke-width="0.4" fill="none" stroke-linejoin="round" stroke-opacity="0.6"/>
<polygon points="581.23,427.97 583.82,427.97 582.52,430.27" fill="#f040f0" />
<polygon points="584.85,420.10 587.45,420.10 586.15,422.40" fill="#f040f0" />
<polygon points="588.48,412.57 591.07,412.57 589.77,414.87" fill="#f040f0" />
<polygon points="592.10,405.49 594.70,405.49 593.40,407.79" fill="#f040f0" />
<polygon points="595.73,398.97 598.32,398.97 597.02,401.27" fill="#f040f0" />
<polygon points="599.35,393.07 601.95,393.07 600.65,395.37" fill="#f040f0" />
<polygon points="602.98,387.81 605.57,387.81 604.27,390.11" fill="#f040f0" />
<polygon points="606.60,383.19 609.20,383.19 607.90,385.49" fill="#f040f0" />
<polygon points="610.23,379.18 612.82,379.18 611.52,381.48" fill="#f040f0" />
<polygon points="613.85,375.73 616.45,375.73 615.15,378.03" fill="#f040f0" />
<polygon points="617.48,372.81 620.07,372.81 618.77,375.11" fill="#f040f0" />
<polygon points="621.10,370.34 623.70,370.34 622.40,372.64" fill="#f040f0" />
<polygon points="624.73,368.26 627.32,368.26 626.02,370.56" fill="#f040f0" />
<polygon points="628.35,366.54 630.95,366.54 629.65,368.84" fill="#f040f0" />
<polygon points="631.98,365.11 634.57,365.11 633.27,367.41" fill="#f040f0" />
<polygon points="635.60,363.92 638.20,363.92 636.90,366.22" fill="#f040f0" />
<polygon points="639.23,362.95 641.82,362.95 640.52,365.25" fill="#f040f0" />
<polygon points="642.85,362.15 645.45,362.15 644.15,364.45" fill="#f040f0" />
<polygon points="646.48,361.49 649.07,361.49 647.77,363.79" fill="#f040f0" />
<polygon points="650.10,360.95 652.70,360.95 651.40,363.25" fill="#f040f0" />
<polygon points="653.73,360.52 656.32,360.52 655.02,362.82" fill="#f040f0" />
<polygon points="657.35,360.16 659.95,360.16 658.65,362.46" fill="#f040f0" />
<polygon points="660.98,359.87 663.57,359.87 662.27,362.17" fill="#f040f0" />
<polygon points="664.60,359.63 667.20,359.63 665.90,361.93" fill="#f040f0" />
<polygon points="668.23,359.43 670.82,359.43 669.52,361.73" fill="#f040f0" />
<polygon points="671.85,359.28 674.45,359.28 673.15,361.58" fill="#f040f0" />
<polygon points="675.48,359.15 678.07,359.15 676.77,361.45" fill="#f040f0" />
<polygon points="679.10,359.04 681.70,359.04 680.40,361.34" fill="#f040f0" />
<polygon points="682.73,358.96 685.32,358.96 684.02,361.26" fill="#f040f0" />
<polygon points="686.35,358.89 688.95,358.89 687.65,361.19" fill="#f040f0" />
<path d="M578.90,437.00 L581.07,433.34 L583.25,429.78 L585.42,426.41 L587.60,423.31 L589.77,420.52 L591.95,418.08 L594.12,415.96 L596.30,414.17 L598.48,412.67 L600.65,411.43 L602.82,410.41 L605.00,409.58 L607.17,408.92 L609.35,408.38 L611.52,407.95 L613.70,407.61 L615.88,407.34 L618.05,407.13 L620.23,406.96 L622.40,406.82 L624.57,406.72 L626.75,406.63 L628.92,406.57 L631.10,406.52 L633.27,406.47 L635.45,406.44 L637.62,406.42 L639.80,406.40 L641.98,406.38 L644.15,406.37 L646.33,406.36 L648.50,406.35 L650.67,406.35 L652.85,406.34 L655.02,406.34 L657.20,406.33 L659.38,406.33 L661.55,406.33 L663.72,406.33 L665.90,406.33 L668.08,406.33 L670.25,406.33 L672.42,406.33 L674.60,406.32 L676.77,406.32 L678.95,406.32 L681.12,406.32 L683.30,406.32 L685.47,406.32 L687.65,406.32" stroke="#2040e0" stroke-width="0.4" fill="none" stroke-linejoin="round" stroke-opacity="0.6"/>
<polygon points="581.23,431.95 583.82,431.95 582.52,429.65" fill="#2040e0" />
<polygon points="584.85,426.34 587.45,426.34 586.15,424.04" fill="#2040e0" />
<polygon points="588.48,421.52 591.07,421.52 589.77,419.22" fill="#2040e0" />
<polygon points="592.10,417.63 594.70,417.63 593.40,415.33" fill="#2040e0" />
<polygon points="595.73,414.64 598.32,414.64 597.02,412.34" fill="#2040e0" />
<polygon points="599.35,412.43 601.95,412.43 600.65,410.13" fill="#2040e0" />
<polygon points="602.98,410.84 605.57,410.84 604.27,408.54" fill="#2040e0" />
<polygon points="606.60,409.73 609.20,409.73 607.90,407.43" fill="#2040e0" />
<polygon points="610.23,408.95 612.82,408.95 611.52,406.65" fill="#2040e0" />
<polygon points="613.85,408.43 616.45,408.43 615.15,406.13" fill="#2040e0" />
<polygon points="617.48,408.07 620.07,408.07 618.77,405.77" fill="#2040e0" />
<polygon points="621.10,407.82 623.70,407.82 622.40,405.52" fill="#2040e0" />
<polygon points="624.73,407.66 627.32,407.66 626.02,405.36" fill="#2040e0" />
<polygon points="628.35,407.55 630.95,407.55 629.65,405.25" fill="#2040e0" />
<polygon points="631.98,407.47 634.57,407.47 633.27,405.17" fill="#2040e0" />
<polygon points="635.60,407.42 638.20,407.42 636.90,405.12" fill="#2040e0" />
<polygon points="639.23,407.39 641.82,407.39 640.52,405.09" fill="#2040e0" />
<polygon points="642.85,407.37 645.45,407.37 644.15,405.07" fill="#2040e0" />
<polygon points="646.48,407.35 649.07,407.35 647.77,405.05" fill="#2040e0" />
<polygon points="650.10,407.34 652.70,407.34 651.40,405.04" fill="#2040e0" />
<polygon points="653.73,407.34 656.32,407.34 655.02,405.04" fill="#2040e0" />
<polygon points="657.35,407.33 659.95,407.33 658.65,405.03" fill="#2040e0" />
<polygon points="660.98,407.33 663.57,407.33 662.27,405.03" fill="#2040e0" />
<polygon points="664.60,407.33 667.20,407.33 665.90,405.03" fill="#2040e0" />
<polygon points="668.23,407.33 670.82,407.33 669.52,405.03" fill="#2040e0" />
<polygon points="671.85,407.32 674.45,407.32 673.15,405.02" fill="#2040e0" />
<polygon points="675.48,407.32 678.07,407.32 676.77,405.02" fill="#2040e0" />
<polygon points="679.10,407.32 681.70,407.32 680.40,405.02" fill="#2040e0" />
<polygon points="682.73,407.32 685.32,407.32 684.02,405.02" fill="#2040e0" />
<polygon points="686.35,407.32 688.95,407.32 687.65,405.02" fill="#2040e0" />
<path d="M578.90,437.00 L581.07,435.41 L583.25,434.07 L585.42,433.10 L587.60,432.46 L589.77,432.07 L591.95,431.84 L594.12,431.71 L596.30,431.64 L598.48,431.60 L600.65,431.58 L602.82,431.57 L605.00,431.56 L607.17,431.56 L609.35,431.56 L611.52,431.55 L613.70,431.55 L615.88,431.55 L618.05,431.55 L620.23,431.55 L622.40,431.55 L624.57,431.55 L626.75,431.55 L628.92,431.55 L631.10,431.55 L633.27,431.55 L635.45,431.55 L637.62,431.55 L639.80,431.55 L641.98,431.55 L644.15,431.55 L646.33,431.55 L648.50,431.55 L650.67,431.55 L652.85,431.55 L655.02,431.55 L657.20,431.55 L659.38,431.55 L661.55,431.55 L663.72,431.55 L665.90,431.55 L668.08,431.55 L670.25,431.55 L672.42,431.55 L674.60,431.55 L676.77,431.55 L678.95,431.55 L681.12,431.55 L683.30,431.55 L685.47,431.55 L687.65,431.55" stroke="#e01010" stroke-width="0.4" fill="none" stroke-linejoin="round" stroke-opacity="0.6"/>
<circle cx="582.5" cy="434.5" r="1.0" fill="#e01010"/>
<circle cx="586.1" cy="432.9" r="1.0" fill="#e01010"/>
<circle cx="589.8" cy="432.1" r="1.0" fill="#e01010"/>
<circle cx="593.4" cy="431.7" r="1.0" fill="#e01010"/>
<circle cx="597.0" cy="431.6" r="1.0" fill="#e01010"/>
<circle cx="600.6" cy="431.6" r="1.0" fill="#e01010"/>
<circle cx="604.3" cy="431.6" r="1.0" fill="#e01010"/>
<circle cx="607.9" cy="431.6" r="1.0" fill="#e01010"/>
<circle cx="611.5" cy="431.6" r="1.0" fill="#e01010"/>
<circle cx="615.1" cy="431.6" r="1.0" fill="#e01010"/>
<circle cx="618.8" cy="431.6" r="1.0" fill="#e01010"/>
<circle cx="622.4" cy="431.6" r="1.0" fill="#e01010"/>
<circle cx="626.0" cy="431.6" r="1.0" fill="#e01010"/>
<circle cx="629.6" cy="431.6" r="1.0" fill="#e01010"/>
<circle cx="633.3" cy="431.6" r="1.0" fill="#e01010"/>
<circle cx="636.9" cy="431.6" r="1.0" fill="#e01010"/>
<circle cx="640.5" cy="431.6" r="1.0" fill="#e01010"/>
<circle cx="644.1" cy="431.6" r="1.0" fill="#e01010"/>
<circle cx="647.8" cy="431.6" r="1.0" fill="#e01010"/>
<circle cx="651.4" cy="431.6" r="1.0" fill="#e01010"/>
<circle cx="655.0" cy="431.6" r="1.0" fill="#e01010"/>
<circle cx="658.6" cy="431.6" r="1.0" fill="#e01010"/>
<circle cx="662.3" cy="431.6" r="1.0" fill="#e01010"/>
<circle cx="665.9" cy="431.6" r="1.0" fill="#e01010"/>
<circle cx="669.5" cy="431.6" r="1.0" fill="#e01010"/>
<circle cx="673.1" cy="431.6" r="1.0" fill="#e01010"/>
<circle cx="676.8" cy="431.6" r="1.0" fill="#e01010"/>
<circle cx="680.4" cy="431.6" r="1.0" fill="#e01010"/>
<circle cx="684.0" cy="431.6" r="1.0" fill="#e01010"/>
<circle cx="687.6" cy="431.6" r="1.0" fill="#e01010"/>
<path d="M578.90,437.00 L581.07,437.00 L583.25,437.00 L585.42,437.00 L587.60,437.00 L589.77,437.00 L591.95,437.00 L594.12,437.00 L596.30,437.00 L598.48,437.00 L600.65,437.00 L602.82,437.00 L605.00,437.00 L607.17,437.00 L609.35,437.00 L611.52,437.00 L613.70,437.00 L615.88,437.00 L618.05,437.00 L620.23,437.00 L622.40,437.00 L624.57,437.00 L626.75,437.00 L628.92,437.00 L631.10,437.00 L633.27,437.00 L635.45,437.00 L637.62,437.00 L639.80,437.00 L641.98,437.00 L644.15,437.00 L646.33,437.00 L648.50,437.00 L650.67,437.00 L652.85,437.00 L655.02,437.00 L657.20,437.00 L659.38,437.00 L661.55,437.00 L663.72,437.00 L665.90,437.00 L668.08,437.00 L670.25,437.00 L672.42,437.00 L674.60,437.00 L676.77,437.00 L678.95,437.00 L681.12,437.00 L683.30,437.00 L685.47,437.00 L687.65,437.00" stroke="#111" stroke-width="0.4" fill="none" stroke-linejoin="round" stroke-opacity="0.6"/>
<rect x="581.7" y="436.2" width="1.6" height="1.6" fill="#111"/>
<rect x="585.4" y="436.2" width="1.6" height="1.6" fill="#111"/>
<rect x="589.0" y="436.2" width="1.6" height="1.6" fill="#111"/>
<rect x="592.6" y="436.2" width="1.6" height="1.6" fill="#111"/>
<rect x="596.2" y="436.2" width="1.6" height="1.6" fill="#111"/>
<rect x="599.9" y="436.2" width="1.6" height="1.6" fill="#111"/>
<rect x="603.5" y="436.2" width="1.6" height="1.6" fill="#111"/>
<rect x="607.1" y="436.2" width="1.6" height="1.6" fill="#111"/>
<rect x="610.7" y="436.2" width="1.6" height="1.6" fill="#111"/>
<rect x="614.4" y="436.2" width="1.6" height="1.6" fill="#111"/>
<rect x="618.0" y="436.2" width="1.6" height="1.6" fill="#111"/>
<rect x="621.6" y="436.2" width="1.6" height="1.6" fill="#111"/>
<rect x="625.2" y="436.2" width="1.6" height="1.6" fill="#111"/>
<rect x="628.9" y="436.2" width="1.6" height="1.6" fill="#111"/>
<rect x="632.5" y="436.2" width="1.6" height="1.6" fill="#111"/>
<rect x="636.1" y="436.2" width="1.6" height="1.6" fill="#111"/>
<rect x="639.7" y="436.2" width="1.6" height="1.6" fill="#111"/>
<rect x="643.4" y="436.2" width="1.6" height="1.6" fill="#111"/>
<rect x="647.0" y="436.2" width="1.6" height="1.6" fill="#111"/>
<rect x="650.6" y="436.2" width="1.6" height="1.6" fill="#111"/>
<rect x="654.2" y="436.2" width="1.6" height="1.6" fill="#111"/>
<rect x="657.9" y="436.2" width="1.6" height="1.6" fill="#111"/>
<rect x="661.5" y="436.2" width="1.6" height="1.6" fill="#111"/>
<rect x="665.1" y="436.2" width="1.6" height="1.6" fill="#111"/>
<rect x="668.7" y="436.2" width="1.6" height="1.6" fill="#111"/>
<rect x="672.4" y="436.2" width="1.6" height="1.6" fill="#111"/>
<rect x="676.0" y="436.2" width="1.6" height="1.6" fill="#111"/>
<rect x="679.6" y="436.2" width="1.6" height="1.6" fill="#111"/>
<rect x="683.2" y="436.2" width="1.6" height="1.6" fill="#111"/>
<rect x="686.9" y="436.2" width="1.6" height="1.6" fill="#111"/>
<rect x="657.8" y="362.8" width="37.5" height="39.7" fill="#fff" stroke="#aaa" stroke-width="0.6"/>
<text x="0.00" y="0.00" transform="translate(665.60,371.20) scale(1.0,1.1)" font-size="8.6" font-weight="bold" text-anchor="start" fill="#000" stroke="#000" stroke-width="0.22"><tspan font-style="italic">V</tspan><tspan font-size="4.90" dy="1.12">GS</tspan><tspan dy="-1.12">=</tspan></text>
<line x1="660.00" y1="376.60" x2="672.40" y2="376.60" stroke="#f040f0" stroke-width="0.5" />
<polygon points="664.50,375.50 667.50,375.50 666.00,378.00" fill="#f040f0" />
<text x="0.00" y="0.00" transform="translate(674.00,379.60) scale(1.0,1.1)" font-size="8.8" font-weight="bold" text-anchor="start" fill="#000" stroke="#000" stroke-width="0.22"><tspan>12 V</tspan></text>
<line x1="660.00" y1="383.90" x2="672.40" y2="383.90" stroke="#2040e0" stroke-width="0.5" />
<polygon points="664.50,385.00 667.50,385.00 666.00,382.50" fill="#2040e0" />
<text x="0.00" y="0.00" transform="translate(674.00,386.90) scale(1.0,1.1)" font-size="8.8" font-weight="bold" text-anchor="start" fill="#000" stroke="#000" stroke-width="0.22"><tspan>8 V</tspan></text>
<line x1="660.00" y1="391.00" x2="672.40" y2="391.00" stroke="#e01010" stroke-width="0.5" />
<circle cx="666" cy="391" r="1.1" fill="#e01010"/>
<text x="0.00" y="0.00" transform="translate(674.00,394.00) scale(1.0,1.1)" font-size="8.8" font-weight="bold" text-anchor="start" fill="#000" stroke="#000" stroke-width="0.22"><tspan>4 V</tspan></text>
<line x1="660.00" y1="398.30" x2="672.40" y2="398.30" stroke="#111" stroke-width="0.5" />
<rect x="665.1" y="397.40000000000003" width="1.8" height="1.8" fill="#111"/>
<text x="0.00" y="0.00" transform="translate(674.00,401.30) scale(1.0,1.1)" font-size="8.8" font-weight="bold" text-anchor="start" fill="#000" stroke="#000" stroke-width="0.22"><tspan>0 V</tspan></text>
</svg></body></html>
